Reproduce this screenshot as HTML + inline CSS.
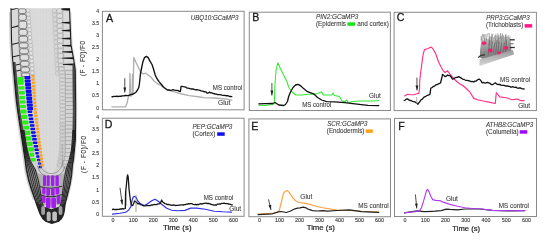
<!DOCTYPE html>
<html><head><meta charset="utf-8"><title>GCaMP3 root calcium responses</title>
<style>
html,body{margin:0;padding:0;background:#fff;width:550px;height:240px;overflow:hidden}
svg{display:block}
text{font-family:"Liberation Sans",Arial,sans-serif;fill:#333}
.pl{font-size:10.6px;fill:#1a1a1a;stroke:#1a1a1a;stroke-width:0.3px}
.yt{font-size:5.1px;text-anchor:end;fill:#333;stroke:#333;stroke-width:0.1px}
.xt{font-size:5.4px;text-anchor:middle;fill:#333;stroke:#333;stroke-width:0.1px}
.xl{font-size:7.9px;fill:#222;stroke:#222;stroke-width:0.2px}
.yl{font-size:6.3px;text-anchor:middle;fill:#333;stroke:#333;stroke-width:0.12px}
.it{font-size:6.5px;font-style:italic;fill:#383838;stroke:#383838;stroke-width:0.08px}
.nt{font-size:6.5px;fill:#383838;stroke:#383838;stroke-width:0.08px}
</style></head>
<body>
<svg width="550" height="240" viewBox="0 0 550 240">
<rect width="550" height="240" fill="#fff"/>
<defs><clipPath id="rootclip"><polygon points="11.00,8.30 11.04,10.72 11.08,13.14 11.11,15.56 11.15,17.98 11.19,20.40 11.23,22.81 11.27,25.23 11.31,27.65 11.34,30.07 11.38,32.49 11.42,34.91 11.46,37.33 11.50,39.75 11.62,42.17 11.74,44.59 11.87,47.01 12.00,49.42 12.13,51.84 12.26,54.26 12.43,56.68 12.63,59.10 12.82,61.52 13.02,63.94 13.21,66.36 13.40,68.78 13.61,71.20 13.82,73.62 14.03,76.03 14.25,78.45 14.46,80.87 14.67,83.29 14.89,85.71 15.10,88.13 15.33,90.55 15.55,92.97 15.77,95.39 16.00,97.81 16.23,100.23 16.54,102.64 16.86,105.06 17.17,107.48 17.49,109.90 17.85,112.32 18.21,114.74 18.57,117.16 18.94,119.58 19.30,122.00 19.66,124.42 20.03,126.84 20.39,129.26 20.75,131.67 21.11,134.09 21.48,136.51 21.84,138.93 22.20,141.35 22.57,143.77 22.93,146.19 23.29,148.61 23.65,151.03 24.02,153.45 24.38,155.87 24.74,158.28 25.09,160.70 25.41,163.12 25.72,165.54 26.03,167.96 26.38,170.38 26.92,172.80 27.45,175.22 27.98,177.64 28.52,180.06 29.24,182.48 29.97,184.89 30.69,187.31 31.42,189.73 32.25,192.15 33.10,194.57 33.95,196.99 34.79,199.41 35.62,201.83 36.44,204.25 37.30,206.67 38.17,209.09 39.10,211.50 40.07,213.92 41.31,216.34 42.95,218.76 45.77,221.18 51.80,223.60 51.80,223.60 58.73,221.18 61.43,218.76 62.83,216.34 63.72,213.92 64.20,211.50 64.59,209.09 64.83,206.67 65.19,204.25 65.79,201.83 66.40,199.41 67.00,196.99 67.61,194.57 68.21,192.15 68.82,189.73 69.42,187.31 70.02,184.89 70.43,182.48 70.84,180.06 71.25,177.64 71.66,175.22 71.88,172.80 72.07,170.38 72.26,167.96 72.46,165.54 72.88,163.12 73.36,160.70 73.66,158.28 73.89,155.87 74.12,153.45 74.35,151.03 74.58,148.61 74.81,146.19 75.04,143.77 75.27,141.35 75.41,138.93 75.43,136.51 75.46,134.09 75.48,131.67 75.51,129.26 75.53,126.84 75.56,124.42 75.58,122.00 75.60,119.58 75.63,117.16 75.65,114.74 75.68,112.32 75.70,109.90 75.67,107.48 75.65,105.06 75.63,102.64 75.60,100.23 75.58,97.81 75.55,95.39 75.53,92.97 75.51,90.55 75.48,88.13 75.46,85.71 75.43,83.29 75.41,80.87 75.38,78.45 75.36,76.03 75.34,73.62 75.31,71.20 75.12,68.78 74.75,66.36 74.39,63.94 74.03,61.52 73.63,59.10 73.18,56.68 72.73,54.26 72.28,51.84 71.83,49.42 71.37,47.01 70.98,44.59 70.89,42.17 70.79,39.75 70.69,37.33 70.60,34.91 70.50,32.49 70.40,30.07 70.31,27.65 70.21,25.23 70.11,22.81 70.02,20.40 69.91,17.98 69.81,15.56 69.71,13.14 69.60,10.72 69.50,8.30"/></clipPath><filter id="rblur" x="-5%" y="-5%" width="110%" height="110%"><feGaussianBlur stdDeviation="0.35"/></filter></defs>
<g filter="url(#rblur)">
<polyline points="9.76,12.00 9.83,16.82 9.91,21.64 9.99,26.46 10.06,31.28 10.14,36.10 10.25,40.92 10.51,45.74 10.76,50.56 11.03,55.38 11.42,60.21 11.80,65.03 12.19,69.85 12.61,74.67 13.04,79.49 13.46,84.31 13.90,89.13 14.34,93.95 14.79,98.77 15.37,103.59 15.99,108.41 16.68,113.23 17.41,118.05 18.13,122.87 18.85,127.69 19.58,132.51 20.30,137.33 21.02,142.15 21.75,146.97 22.47,151.79 23.19,156.62 23.89,161.44 24.51,166.26 25.24,171.08 26.30,175.90 27.42,180.72 28.86,185.54 30.33,190.36 32.01,195.18 33.70,200.00" fill="none" stroke="#d2d2d2" stroke-width="1.6"/>
<polyline points="70.66,12.00 70.86,16.82 71.07,21.64 71.26,26.46 71.45,31.28 71.64,36.10 71.84,40.92 72.14,45.74 73.04,50.56 73.94,55.38 74.83,60.21 75.55,65.03 76.28,69.85 76.35,74.67 76.39,79.49 76.44,84.31 76.49,89.13 76.54,93.95 76.59,98.77 76.64,103.59 76.68,108.41 76.67,113.23 76.62,118.05 76.57,122.87 76.52,127.69 76.47,132.51 76.43,137.33 76.20,142.15 75.74,146.97 75.28,151.79 74.82,156.62 74.21,161.44 73.40,166.26 73.01,171.08 72.55,175.90 71.73,180.72 70.87,185.54 69.66,190.36 68.46,195.18 67.25,200.00" fill="none" stroke="#dadada" stroke-width="1.2"/>
<g clip-path="url(#rootclip)">
<polygon points="11.00,8.30 11.04,10.72 11.08,13.14 11.11,15.56 11.15,17.98 11.19,20.40 11.23,22.81 11.27,25.23 11.31,27.65 11.34,30.07 11.38,32.49 11.42,34.91 11.46,37.33 11.50,39.75 11.62,42.17 11.74,44.59 11.87,47.01 12.00,49.42 12.13,51.84 12.26,54.26 12.43,56.68 12.63,59.10 12.82,61.52 13.02,63.94 13.21,66.36 13.40,68.78 13.61,71.20 13.82,73.62 14.03,76.03 14.25,78.45 14.46,80.87 14.67,83.29 14.89,85.71 15.10,88.13 15.33,90.55 15.55,92.97 15.77,95.39 16.00,97.81 16.23,100.23 16.54,102.64 16.86,105.06 17.17,107.48 17.49,109.90 17.85,112.32 18.21,114.74 18.57,117.16 18.94,119.58 19.30,122.00 19.66,124.42 20.03,126.84 20.39,129.26 20.75,131.67 21.11,134.09 21.48,136.51 21.84,138.93 22.20,141.35 22.57,143.77 22.93,146.19 23.29,148.61 23.65,151.03 24.02,153.45 24.38,155.87 24.74,158.28 25.09,160.70 25.41,163.12 25.72,165.54 26.03,167.96 26.38,170.38 26.92,172.80 27.45,175.22 27.98,177.64 28.52,180.06 29.24,182.48 29.97,184.89 30.69,187.31 31.42,189.73 32.25,192.15 33.10,194.57 33.95,196.99 34.79,199.41 35.62,201.83 36.44,204.25 37.30,206.67 38.17,209.09 39.10,211.50 40.07,213.92 41.31,216.34 42.95,218.76 45.77,221.18 51.80,223.60 51.80,223.60 58.73,221.18 61.43,218.76 62.83,216.34 63.72,213.92 64.20,211.50 64.59,209.09 64.83,206.67 65.19,204.25 65.79,201.83 66.40,199.41 67.00,196.99 67.61,194.57 68.21,192.15 68.82,189.73 69.42,187.31 70.02,184.89 70.43,182.48 70.84,180.06 71.25,177.64 71.66,175.22 71.88,172.80 72.07,170.38 72.26,167.96 72.46,165.54 72.88,163.12 73.36,160.70 73.66,158.28 73.89,155.87 74.12,153.45 74.35,151.03 74.58,148.61 74.81,146.19 75.04,143.77 75.27,141.35 75.41,138.93 75.43,136.51 75.46,134.09 75.48,131.67 75.51,129.26 75.53,126.84 75.56,124.42 75.58,122.00 75.60,119.58 75.63,117.16 75.65,114.74 75.68,112.32 75.70,109.90 75.67,107.48 75.65,105.06 75.63,102.64 75.60,100.23 75.58,97.81 75.55,95.39 75.53,92.97 75.51,90.55 75.48,88.13 75.46,85.71 75.43,83.29 75.41,80.87 75.38,78.45 75.36,76.03 75.34,73.62 75.31,71.20 75.12,68.78 74.75,66.36 74.39,63.94 74.03,61.52 73.63,59.10 73.18,56.68 72.73,54.26 72.28,51.84 71.83,49.42 71.37,47.01 70.98,44.59 70.89,42.17 70.79,39.75 70.69,37.33 70.60,34.91 70.50,32.49 70.40,30.07 70.31,27.65 70.21,25.23 70.11,22.81 70.02,20.40 69.91,17.98 69.81,15.56 69.71,13.14 69.60,10.72 69.50,8.30" fill="#d4d4d4"/>
<polygon points="29.40,8.30 29.71,11.72 30.03,15.14 30.34,18.57 30.65,21.99 30.96,25.41 31.28,28.83 31.59,32.26 31.90,35.68 32.22,39.10 32.53,42.52 32.84,45.95 33.16,49.37 33.47,52.79 33.78,56.21 34.09,59.64 34.41,63.06 34.72,66.48 35.03,69.90 35.35,73.33 35.60,76.75 35.80,80.17 35.99,83.59 36.19,87.02 36.38,90.44 36.58,93.86 36.77,97.28 36.97,100.71 37.16,104.13 37.36,107.55 37.60,110.97 37.94,114.40 38.28,117.82 38.62,121.24 38.97,124.66 39.31,128.09 39.65,131.51 39.99,134.93 40.34,138.35 40.77,141.78 41.28,145.20 41.79,148.62 42.31,152.04 42.82,155.47 43.33,158.89 44.08,162.31 44.93,165.73 45.79,169.16 47.72,172.58 50.00,176.00 52.00,176.00 53.71,172.58 55.21,169.16 56.07,165.73 56.92,162.31 57.61,158.89 57.95,155.47 58.30,152.04 58.64,148.62 58.98,145.20 59.32,141.78 59.50,138.35 59.50,134.93 59.50,131.51 59.50,128.09 59.50,124.66 59.50,121.24 59.50,117.82 59.50,114.40 59.50,110.97 59.43,107.55 59.33,104.13 59.23,100.71 59.14,97.28 59.04,93.86 58.94,90.44 58.84,87.02 58.75,83.59 58.65,80.17 58.55,76.75 58.11,73.33 57.31,69.90 56.51,66.48 55.71,63.06 54.98,59.64 54.78,56.21 54.58,52.79 54.38,49.37 54.18,45.95 53.99,42.52 53.79,39.10 53.59,35.68 53.39,32.26 53.19,28.83 52.99,25.41 52.79,21.99 52.60,18.57 52.40,15.14 52.20,11.72 52.00,8.30" fill="#e1e1e1"/>
<line x1="30.50" y1="8.5" x2="30.50" y2="172" stroke="#cecece" stroke-width="0.5"/>
<line x1="31.95" y1="8.5" x2="31.95" y2="172" stroke="#cecece" stroke-width="0.5"/>
<line x1="33.40" y1="8.5" x2="33.40" y2="172" stroke="#cecece" stroke-width="0.5"/>
<line x1="34.85" y1="8.5" x2="34.85" y2="172" stroke="#cecece" stroke-width="0.5"/>
<line x1="36.30" y1="8.5" x2="36.30" y2="172" stroke="#cecece" stroke-width="0.5"/>
<line x1="37.75" y1="8.5" x2="37.75" y2="172" stroke="#cecece" stroke-width="0.5"/>
<line x1="39.20" y1="8.5" x2="39.20" y2="172" stroke="#cecece" stroke-width="0.5"/>
<line x1="40.65" y1="8.5" x2="40.65" y2="172" stroke="#cecece" stroke-width="0.5"/>
<line x1="42.10" y1="8.5" x2="42.10" y2="172" stroke="#cecece" stroke-width="0.5"/>
<line x1="43.55" y1="8.5" x2="43.55" y2="172" stroke="#cecece" stroke-width="0.5"/>
<line x1="45.00" y1="8.5" x2="45.00" y2="172" stroke="#cecece" stroke-width="0.5"/>
<line x1="46.45" y1="8.5" x2="46.45" y2="172" stroke="#cecece" stroke-width="0.5"/>
<line x1="47.90" y1="8.5" x2="47.90" y2="172" stroke="#cecece" stroke-width="0.5"/>
<line x1="49.35" y1="8.5" x2="49.35" y2="172" stroke="#cecece" stroke-width="0.5"/>
<line x1="50.80" y1="8.5" x2="50.80" y2="172" stroke="#cecece" stroke-width="0.5"/>
<line x1="52.25" y1="8.5" x2="52.25" y2="172" stroke="#cecece" stroke-width="0.5"/>
<line x1="53.70" y1="8.5" x2="53.70" y2="172" stroke="#cecece" stroke-width="0.5"/>
<line x1="55.15" y1="8.5" x2="55.15" y2="172" stroke="#cecece" stroke-width="0.5"/>
<line x1="56.60" y1="8.5" x2="56.60" y2="172" stroke="#cecece" stroke-width="0.5"/>
<line x1="58.05" y1="8.5" x2="58.05" y2="172" stroke="#cecece" stroke-width="0.5"/>
<line x1="30.56" y1="10.0" x2="51.10" y2="10.0" stroke="#d6d6d6" stroke-width="0.4"/>
<line x1="30.76" y1="12.2" x2="51.23" y2="12.2" stroke="#d6d6d6" stroke-width="0.4"/>
<line x1="30.96" y1="14.4" x2="51.35" y2="14.4" stroke="#d6d6d6" stroke-width="0.4"/>
<line x1="31.16" y1="16.6" x2="51.48" y2="16.6" stroke="#d6d6d6" stroke-width="0.4"/>
<line x1="31.36" y1="18.8" x2="51.61" y2="18.8" stroke="#d6d6d6" stroke-width="0.4"/>
<line x1="31.56" y1="21.0" x2="51.74" y2="21.0" stroke="#d6d6d6" stroke-width="0.4"/>
<line x1="31.76" y1="23.2" x2="51.86" y2="23.2" stroke="#d6d6d6" stroke-width="0.4"/>
<line x1="31.96" y1="25.4" x2="51.99" y2="25.4" stroke="#d6d6d6" stroke-width="0.4"/>
<line x1="32.17" y1="27.6" x2="52.12" y2="27.6" stroke="#d6d6d6" stroke-width="0.4"/>
<line x1="32.37" y1="29.8" x2="52.25" y2="29.8" stroke="#d6d6d6" stroke-width="0.4"/>
<line x1="32.57" y1="32.0" x2="52.38" y2="32.0" stroke="#d6d6d6" stroke-width="0.4"/>
<line x1="32.77" y1="34.2" x2="52.50" y2="34.2" stroke="#d6d6d6" stroke-width="0.4"/>
<line x1="32.97" y1="36.4" x2="52.63" y2="36.4" stroke="#d6d6d6" stroke-width="0.4"/>
<line x1="33.17" y1="38.6" x2="52.76" y2="38.6" stroke="#d6d6d6" stroke-width="0.4"/>
<line x1="33.37" y1="40.8" x2="52.89" y2="40.8" stroke="#d6d6d6" stroke-width="0.4"/>
<line x1="33.57" y1="43.0" x2="53.01" y2="43.0" stroke="#d6d6d6" stroke-width="0.4"/>
<line x1="33.77" y1="45.2" x2="53.14" y2="45.2" stroke="#d6d6d6" stroke-width="0.4"/>
<line x1="33.98" y1="47.4" x2="53.27" y2="47.4" stroke="#d6d6d6" stroke-width="0.4"/>
<line x1="34.18" y1="49.6" x2="53.40" y2="49.6" stroke="#d6d6d6" stroke-width="0.4"/>
<line x1="34.38" y1="51.8" x2="53.52" y2="51.8" stroke="#d6d6d6" stroke-width="0.4"/>
<line x1="34.58" y1="54.0" x2="53.65" y2="54.0" stroke="#d6d6d6" stroke-width="0.4"/>
<line x1="34.78" y1="56.2" x2="53.78" y2="56.2" stroke="#d6d6d6" stroke-width="0.4"/>
<line x1="34.98" y1="58.4" x2="53.91" y2="58.4" stroke="#d6d6d6" stroke-width="0.4"/>
<line x1="35.18" y1="60.6" x2="54.14" y2="60.6" stroke="#d6d6d6" stroke-width="0.4"/>
<line x1="35.38" y1="62.8" x2="54.65" y2="62.8" stroke="#d6d6d6" stroke-width="0.4"/>
<line x1="35.59" y1="65.0" x2="55.17" y2="65.0" stroke="#d6d6d6" stroke-width="0.4"/>
<line x1="35.79" y1="67.2" x2="55.68" y2="67.2" stroke="#d6d6d6" stroke-width="0.4"/>
<line x1="35.99" y1="69.4" x2="56.19" y2="69.4" stroke="#d6d6d6" stroke-width="0.4"/>
<line x1="36.19" y1="71.6" x2="56.71" y2="71.6" stroke="#d6d6d6" stroke-width="0.4"/>
<line x1="36.39" y1="73.8" x2="57.22" y2="73.8" stroke="#d6d6d6" stroke-width="0.4"/>
<line x1="36.56" y1="76.0" x2="57.53" y2="76.0" stroke="#d6d6d6" stroke-width="0.4"/>
<line x1="36.68" y1="78.2" x2="57.59" y2="78.2" stroke="#d6d6d6" stroke-width="0.4"/>
<line x1="36.81" y1="80.4" x2="57.65" y2="80.4" stroke="#d6d6d6" stroke-width="0.4"/>
<line x1="36.93" y1="82.6" x2="57.72" y2="82.6" stroke="#d6d6d6" stroke-width="0.4"/>
<line x1="37.06" y1="84.8" x2="57.78" y2="84.8" stroke="#d6d6d6" stroke-width="0.4"/>
<line x1="37.19" y1="87.0" x2="57.84" y2="87.0" stroke="#d6d6d6" stroke-width="0.4"/>
<line x1="37.31" y1="89.2" x2="57.91" y2="89.2" stroke="#d6d6d6" stroke-width="0.4"/>
<line x1="37.44" y1="91.4" x2="57.97" y2="91.4" stroke="#d6d6d6" stroke-width="0.4"/>
<line x1="37.56" y1="93.6" x2="58.03" y2="93.6" stroke="#d6d6d6" stroke-width="0.4"/>
<line x1="37.69" y1="95.8" x2="58.09" y2="95.8" stroke="#d6d6d6" stroke-width="0.4"/>
<line x1="37.81" y1="98.0" x2="58.16" y2="98.0" stroke="#d6d6d6" stroke-width="0.4"/>
<line x1="37.94" y1="100.2" x2="58.22" y2="100.2" stroke="#d6d6d6" stroke-width="0.4"/>
<line x1="38.07" y1="102.4" x2="58.28" y2="102.4" stroke="#d6d6d6" stroke-width="0.4"/>
<line x1="38.19" y1="104.6" x2="58.35" y2="104.6" stroke="#d6d6d6" stroke-width="0.4"/>
<line x1="38.32" y1="106.8" x2="58.41" y2="106.8" stroke="#d6d6d6" stroke-width="0.4"/>
<line x1="38.44" y1="109.0" x2="58.47" y2="109.0" stroke="#d6d6d6" stroke-width="0.4"/>
<line x1="38.62" y1="111.2" x2="58.50" y2="111.2" stroke="#d6d6d6" stroke-width="0.4"/>
<line x1="38.84" y1="113.4" x2="58.50" y2="113.4" stroke="#d6d6d6" stroke-width="0.4"/>
<line x1="39.06" y1="115.6" x2="58.50" y2="115.6" stroke="#d6d6d6" stroke-width="0.4"/>
<line x1="39.28" y1="117.8" x2="58.50" y2="117.8" stroke="#d6d6d6" stroke-width="0.4"/>
<line x1="39.50" y1="120.0" x2="58.50" y2="120.0" stroke="#d6d6d6" stroke-width="0.4"/>
<line x1="39.72" y1="122.2" x2="58.50" y2="122.2" stroke="#d6d6d6" stroke-width="0.4"/>
<line x1="39.94" y1="124.4" x2="58.50" y2="124.4" stroke="#d6d6d6" stroke-width="0.4"/>
<line x1="40.16" y1="126.6" x2="58.50" y2="126.6" stroke="#d6d6d6" stroke-width="0.4"/>
<line x1="40.38" y1="128.8" x2="58.50" y2="128.8" stroke="#d6d6d6" stroke-width="0.4"/>
<line x1="40.60" y1="131.0" x2="58.50" y2="131.0" stroke="#d6d6d6" stroke-width="0.4"/>
<line x1="40.82" y1="133.2" x2="58.50" y2="133.2" stroke="#d6d6d6" stroke-width="0.4"/>
<line x1="41.04" y1="135.4" x2="58.50" y2="135.4" stroke="#d6d6d6" stroke-width="0.4"/>
<line x1="41.26" y1="137.6" x2="58.50" y2="137.6" stroke="#d6d6d6" stroke-width="0.4"/>
<line x1="41.48" y1="139.8" x2="58.50" y2="139.8" stroke="#d6d6d6" stroke-width="0.4"/>
<line x1="41.80" y1="142.0" x2="58.30" y2="142.0" stroke="#d6d6d6" stroke-width="0.4"/>
<line x1="42.13" y1="144.2" x2="58.08" y2="144.2" stroke="#d6d6d6" stroke-width="0.4"/>
<line x1="42.46" y1="146.4" x2="57.86" y2="146.4" stroke="#d6d6d6" stroke-width="0.4"/>
<line x1="42.79" y1="148.6" x2="57.64" y2="148.6" stroke="#d6d6d6" stroke-width="0.4"/>
<line x1="43.12" y1="150.8" x2="57.42" y2="150.8" stroke="#d6d6d6" stroke-width="0.4"/>
<line x1="43.45" y1="153.0" x2="57.20" y2="153.0" stroke="#d6d6d6" stroke-width="0.4"/>
<line x1="43.78" y1="155.2" x2="56.98" y2="155.2" stroke="#d6d6d6" stroke-width="0.4"/>
<line x1="44.11" y1="157.4" x2="56.76" y2="157.4" stroke="#d6d6d6" stroke-width="0.4"/>
<line x1="44.44" y1="159.6" x2="56.54" y2="159.6" stroke="#d6d6d6" stroke-width="0.4"/>
<line x1="44.95" y1="161.8" x2="56.05" y2="161.8" stroke="#d6d6d6" stroke-width="0.4"/>
<line x1="45.50" y1="164.0" x2="55.50" y2="164.0" stroke="#d6d6d6" stroke-width="0.4"/>
<line x1="46.05" y1="166.2" x2="54.95" y2="166.2" stroke="#d6d6d6" stroke-width="0.4"/>
<line x1="46.60" y1="168.4" x2="54.40" y2="168.4" stroke="#d6d6d6" stroke-width="0.4"/>
<rect x="26.42" y="8.60" width="3.4" height="3.5" rx="1.1" fill="#e6e6e6" stroke="#a6a6a6" stroke-width="0.5"/>
<rect x="26.69" y="12.50" width="3.4" height="3.5" rx="1.1" fill="#e6e6e6" stroke="#a6a6a6" stroke-width="0.5"/>
<rect x="26.97" y="16.40" width="3.4" height="3.5" rx="1.1" fill="#e6e6e6" stroke="#a6a6a6" stroke-width="0.5"/>
<rect x="27.24" y="20.30" width="3.4" height="3.5" rx="1.1" fill="#e6e6e6" stroke="#a6a6a6" stroke-width="0.5"/>
<rect x="27.51" y="24.20" width="3.4" height="3.5" rx="1.1" fill="#e6e6e6" stroke="#a6a6a6" stroke-width="0.5"/>
<rect x="27.79" y="28.10" width="3.4" height="3.5" rx="1.1" fill="#e6e6e6" stroke="#a6a6a6" stroke-width="0.5"/>
<rect x="28.06" y="32.00" width="3.4" height="3.5" rx="1.1" fill="#e6e6e6" stroke="#a6a6a6" stroke-width="0.5"/>
<rect x="28.33" y="35.90" width="3.4" height="3.5" rx="1.1" fill="#e6e6e6" stroke="#a6a6a6" stroke-width="0.5"/>
<rect x="28.61" y="39.80" width="3.4" height="3.5" rx="1.1" fill="#e6e6e6" stroke="#a6a6a6" stroke-width="0.5"/>
<rect x="28.88" y="43.70" width="3.4" height="3.5" rx="1.1" fill="#e6e6e6" stroke="#a6a6a6" stroke-width="0.5"/>
<rect x="29.15" y="47.60" width="3.4" height="3.5" rx="1.1" fill="#e6e6e6" stroke="#a6a6a6" stroke-width="0.5"/>
<rect x="29.42" y="51.50" width="3.4" height="3.5" rx="1.1" fill="#e6e6e6" stroke="#a6a6a6" stroke-width="0.5"/>
<rect x="29.70" y="55.40" width="3.4" height="3.5" rx="1.1" fill="#e6e6e6" stroke="#a6a6a6" stroke-width="0.5"/>
<rect x="29.97" y="59.30" width="3.4" height="3.5" rx="1.1" fill="#e6e6e6" stroke="#a6a6a6" stroke-width="0.5"/>
<rect x="30.24" y="63.20" width="3.4" height="3.5" rx="1.1" fill="#e6e6e6" stroke="#a6a6a6" stroke-width="0.5"/>
<rect x="30.52" y="67.10" width="3.4" height="3.5" rx="1.1" fill="#e6e6e6" stroke="#a6a6a6" stroke-width="0.5"/>
<rect x="30.79" y="71.00" width="3.4" height="3.5" rx="1.1" fill="#e6e6e6" stroke="#a6a6a6" stroke-width="0.5"/>
<rect x="31.06" y="74.90" width="3.4" height="3.5" rx="1.1" fill="#e6e6e6" stroke="#a6a6a6" stroke-width="0.5"/>
<polygon points="11.00,8.30 11.05,11.16 11.09,14.03 11.14,16.89 11.18,19.75 11.23,22.61 11.27,25.48 11.32,28.34 11.36,31.20 11.41,34.06 11.45,36.93 11.50,39.79 11.64,42.65 11.79,45.51 11.95,48.38 12.10,51.24 12.25,54.10 12.46,56.96 12.69,59.83 12.92,62.69 13.14,65.55 13.37,68.41 13.61,71.28 13.87,74.14 14.12,77.00 21.42,77.00 21.17,74.14 20.91,71.28 20.67,68.41 20.44,65.55 20.21,62.69 19.99,59.83 19.76,56.96 19.55,54.10 19.40,51.24 19.25,48.38 19.09,45.51 18.94,42.65 18.80,39.79 18.75,36.93 18.71,34.06 18.66,31.20 18.62,28.34 18.57,25.48 18.53,22.61 18.48,19.75 18.44,16.89 18.39,14.03 18.35,11.16 18.30,8.30" fill="#d9d9d9"/>
<polyline points="18.30,8.30 18.35,11.16 18.39,14.03 18.44,16.89 18.48,19.75 18.53,22.61 18.57,25.48 18.62,28.34 18.66,31.20 18.71,34.06 18.75,36.93 18.80,39.79 18.94,42.65 19.09,45.51 19.25,48.38 19.40,51.24 19.55,54.10 19.76,56.96 19.99,59.83 20.21,62.69 20.44,65.55 20.67,68.41 20.91,71.28 21.17,74.14 21.42,77.00" fill="none" stroke="#7c7c7c" stroke-width="0.8"/>
<line x1="11.00" y1="9.80" x2="18.30" y2="8.00" stroke="#222" stroke-width="1.1"/>
<line x1="11.29" y1="27.70" x2="18.59" y2="25.90" stroke="#222" stroke-width="1.1"/>
<line x1="11.68" y1="44.50" x2="18.98" y2="42.70" stroke="#222" stroke-width="1.1"/>
<line x1="12.36" y1="57.00" x2="19.66" y2="55.20" stroke="#222" stroke-width="1.1"/>
<line x1="13.07" y1="65.80" x2="20.37" y2="64.00" stroke="#222" stroke-width="1.1"/>
<line x1="13.55" y1="71.80" x2="20.85" y2="70.00" stroke="#222" stroke-width="1.1"/>
<rect x="18.64" y="8.70" width="7.36" height="4.90" rx="2" fill="#e0e0e0" stroke="#666" stroke-width="0.8"/>
<rect x="18.74" y="14.40" width="7.60" height="6.00" rx="2" fill="#e0e0e0" stroke="#666" stroke-width="0.8"/>
<rect x="18.86" y="21.20" width="7.89" height="7.40" rx="2" fill="#e0e0e0" stroke="#666" stroke-width="0.8"/>
<rect x="18.98" y="29.40" width="8.26" height="6.00" rx="2" fill="#e0e0e0" stroke="#666" stroke-width="0.8"/>
<rect x="19.09" y="36.20" width="8.56" height="5.90" rx="2" fill="#e0e0e0" stroke="#666" stroke-width="0.8"/>
<rect x="19.39" y="42.90" width="8.66" height="5.00" rx="2" fill="#e0e0e0" stroke="#666" stroke-width="0.8"/>
<rect x="19.70" y="48.70" width="8.70" height="5.10" rx="2" fill="#e0e0e0" stroke="#666" stroke-width="0.8"/>
<rect x="20.10" y="54.60" width="8.65" height="5.80" rx="2" fill="#e0e0e0" stroke="#666" stroke-width="0.8"/>
<rect x="20.60" y="61.20" width="8.55" height="5.10" rx="2" fill="#e0e0e0" stroke="#666" stroke-width="0.8"/>
<rect x="21.07" y="67.10" width="8.44" height="5.00" rx="2" fill="#e0e0e0" stroke="#666" stroke-width="0.8"/>
<rect x="21.52" y="72.90" width="8.33" height="3.70" rx="2" fill="#e0e0e0" stroke="#666" stroke-width="0.8"/>
<rect x="52.22" y="8.60" width="4.40" height="4.0" rx="1.3" fill="#d6d6d6" stroke="#b4b4b4" stroke-width="0.5"/>
<rect x="52.45" y="13.10" width="4.33" height="4.0" rx="1.3" fill="#d6d6d6" stroke="#b4b4b4" stroke-width="0.5"/>
<rect x="52.68" y="17.60" width="4.27" height="4.0" rx="1.3" fill="#d6d6d6" stroke="#b4b4b4" stroke-width="0.5"/>
<rect x="52.91" y="22.10" width="4.21" height="4.0" rx="1.3" fill="#d6d6d6" stroke="#b4b4b4" stroke-width="0.5"/>
<rect x="53.15" y="26.60" width="4.14" height="4.0" rx="1.3" fill="#d6d6d6" stroke="#b4b4b4" stroke-width="0.5"/>
<rect x="53.38" y="31.10" width="4.08" height="4.0" rx="1.3" fill="#d6d6d6" stroke="#b4b4b4" stroke-width="0.5"/>
<rect x="53.61" y="35.60" width="4.01" height="4.0" rx="1.3" fill="#d6d6d6" stroke="#b4b4b4" stroke-width="0.5"/>
<rect x="53.85" y="40.10" width="3.95" height="4.0" rx="1.3" fill="#d6d6d6" stroke="#b4b4b4" stroke-width="0.5"/>
<rect x="54.08" y="44.60" width="3.89" height="4.0" rx="1.3" fill="#d6d6d6" stroke="#b4b4b4" stroke-width="0.5"/>
<rect x="54.31" y="49.10" width="3.82" height="4.0" rx="1.3" fill="#d6d6d6" stroke="#b4b4b4" stroke-width="0.5"/>
<rect x="54.55" y="53.60" width="3.76" height="4.0" rx="1.3" fill="#d6d6d6" stroke="#b4b4b4" stroke-width="0.5"/>
<rect x="54.78" y="58.10" width="3.70" height="4.0" rx="1.3" fill="#d6d6d6" stroke="#b4b4b4" stroke-width="0.5"/>
<rect x="55.01" y="62.60" width="3.63" height="4.0" rx="1.3" fill="#d6d6d6" stroke="#b4b4b4" stroke-width="0.5"/>
<rect x="55.25" y="67.10" width="3.57" height="4.0" rx="1.3" fill="#d6d6d6" stroke="#b4b4b4" stroke-width="0.5"/>
<rect x="55.48" y="71.60" width="3.51" height="4.0" rx="1.3" fill="#d6d6d6" stroke="#b4b4b4" stroke-width="0.5"/>
<rect x="56.81" y="8.60" width="5.60" height="4.40" rx="1.4" fill="#dedede" stroke="#a4a4a4" stroke-width="0.6"/>
<rect x="56.94" y="13.60" width="5.56" height="4.40" rx="1.4" fill="#dedede" stroke="#a4a4a4" stroke-width="0.6"/>
<rect x="57.08" y="18.60" width="5.52" height="4.40" rx="1.4" fill="#dedede" stroke="#a4a4a4" stroke-width="0.6"/>
<rect x="57.21" y="23.60" width="5.48" height="4.40" rx="1.4" fill="#dedede" stroke="#a4a4a4" stroke-width="0.6"/>
<rect x="57.35" y="28.60" width="5.44" height="4.40" rx="1.4" fill="#dedede" stroke="#a4a4a4" stroke-width="0.6"/>
<rect x="57.49" y="33.60" width="5.40" height="4.40" rx="1.4" fill="#dedede" stroke="#a4a4a4" stroke-width="0.6"/>
<rect x="57.62" y="38.60" width="5.37" height="4.40" rx="1.4" fill="#dedede" stroke="#a4a4a4" stroke-width="0.6"/>
<rect x="57.76" y="43.60" width="5.33" height="4.40" rx="1.4" fill="#dedede" stroke="#a4a4a4" stroke-width="0.6"/>
<rect x="57.89" y="48.60" width="5.29" height="4.40" rx="1.4" fill="#dedede" stroke="#a4a4a4" stroke-width="0.6"/>
<rect x="58.03" y="53.60" width="5.25" height="4.40" rx="1.4" fill="#dedede" stroke="#a4a4a4" stroke-width="0.6"/>
<rect x="58.16" y="58.60" width="5.21" height="4.40" rx="1.4" fill="#dedede" stroke="#a4a4a4" stroke-width="0.6"/>
<rect x="58.51" y="63.60" width="5.34" height="3.10" rx="1.4" fill="#dedede" stroke="#a4a4a4" stroke-width="0.6"/>
<rect x="58.83" y="67.30" width="5.49" height="3.10" rx="1.4" fill="#dedede" stroke="#a4a4a4" stroke-width="0.6"/>
<rect x="59.15" y="71.00" width="5.64" height="3.10" rx="1.4" fill="#d8d8d8" stroke="#b0b0b0" stroke-width="0.6"/>
<rect x="59.47" y="74.70" width="5.79" height="3.10" rx="1.4" fill="#d8d8d8" stroke="#b0b0b0" stroke-width="0.6"/>
<rect x="59.50" y="78.40" width="5.80" height="3.10" rx="1.4" fill="#d8d8d8" stroke="#b0b0b0" stroke-width="0.6"/>
<rect x="59.50" y="82.10" width="5.80" height="3.10" rx="1.4" fill="#d8d8d8" stroke="#b0b0b0" stroke-width="0.6"/>
<rect x="59.50" y="85.80" width="5.80" height="3.10" rx="1.4" fill="#d8d8d8" stroke="#b0b0b0" stroke-width="0.6"/>
<rect x="59.50" y="89.50" width="5.80" height="3.10" rx="1.4" fill="#d8d8d8" stroke="#b0b0b0" stroke-width="0.6"/>
<rect x="59.50" y="93.20" width="5.80" height="3.10" rx="1.4" fill="#d8d8d8" stroke="#b0b0b0" stroke-width="0.6"/>
<rect x="59.50" y="96.90" width="5.80" height="3.10" rx="1.4" fill="#d8d8d8" stroke="#b0b0b0" stroke-width="0.6"/>
<rect x="59.50" y="100.60" width="5.80" height="3.10" rx="1.4" fill="#d8d8d8" stroke="#b0b0b0" stroke-width="0.6"/>
<rect x="59.50" y="104.30" width="5.80" height="3.10" rx="1.4" fill="#d8d8d8" stroke="#b0b0b0" stroke-width="0.6"/>
<rect x="59.50" y="108.00" width="5.80" height="3.10" rx="1.4" fill="#d8d8d8" stroke="#b0b0b0" stroke-width="0.6"/>
<rect x="59.50" y="111.70" width="5.80" height="3.10" rx="1.4" fill="#d8d8d8" stroke="#b0b0b0" stroke-width="0.6"/>
<rect x="59.50" y="115.40" width="5.80" height="3.10" rx="1.4" fill="#d8d8d8" stroke="#b0b0b0" stroke-width="0.6"/>
<rect x="59.50" y="119.10" width="5.80" height="3.10" rx="1.4" fill="#d8d8d8" stroke="#b0b0b0" stroke-width="0.6"/>
<rect x="59.50" y="122.80" width="5.80" height="3.10" rx="1.4" fill="#cecece" stroke="#b0b0b0" stroke-width="0.6"/>
<rect x="59.50" y="126.50" width="5.80" height="3.10" rx="1.4" fill="#cecece" stroke="#b0b0b0" stroke-width="0.6"/>
<rect x="59.50" y="130.20" width="5.80" height="3.10" rx="1.4" fill="#cecece" stroke="#b0b0b0" stroke-width="0.6"/>
<rect x="59.50" y="133.90" width="5.80" height="3.10" rx="1.4" fill="#cecece" stroke="#b0b0b0" stroke-width="0.6"/>
<rect x="59.50" y="137.60" width="5.80" height="3.10" rx="1.4" fill="#cecece" stroke="#b0b0b0" stroke-width="0.6"/>
<rect x="59.50" y="141.30" width="5.80" height="3.10" rx="1.4" fill="#cecece" stroke="#b0b0b0" stroke-width="0.6"/>
<rect x="59.50" y="145.00" width="5.80" height="3.10" rx="1.4" fill="#cecece" stroke="#b0b0b0" stroke-width="0.6"/>
<rect x="59.50" y="148.70" width="5.80" height="3.10" rx="1.4" fill="#cecece" stroke="#b0b0b0" stroke-width="0.6"/>
<rect x="59.10" y="152.40" width="5.83" height="3.10" rx="1.4" fill="#cecece" stroke="#b0b0b0" stroke-width="0.6"/>
<rect x="58.48" y="156.10" width="5.88" height="3.10" rx="1.4" fill="#cecece" stroke="#b0b0b0" stroke-width="0.6"/>
<rect x="57.87" y="159.80" width="5.93" height="3.10" rx="1.4" fill="#cecece" stroke="#b0b0b0" stroke-width="0.6"/>
<rect x="57.25" y="163.50" width="5.98" height="3.10" rx="1.4" fill="#cecece" stroke="#b0b0b0" stroke-width="0.6"/>
<rect x="62.90" y="8.60" width="6.23" height="0.70" rx="1.2" fill="#dadada" stroke="#a8a8a8" stroke-width="0.6"/>
<path d="M61.40,8.00 L69.53,7.40 L69.53,9.40 L61.40,8.70 Z" fill="#151515"/>
<rect x="62.92" y="9.90" width="6.51" height="12.40" rx="1.2" fill="#dadada" stroke="#a8a8a8" stroke-width="0.6"/>
<path d="M61.42,9.30 L69.83,8.70 L69.83,10.70 L61.42,10.00 Z" fill="#151515"/>
<rect x="63.12" y="22.90" width="6.74" height="7.30" rx="1.2" fill="#dadada" stroke="#a8a8a8" stroke-width="0.6"/>
<path d="M61.62,22.30 L70.26,21.70 L70.26,23.70 L61.62,23.00 Z" fill="#151515"/>
<rect x="63.24" y="30.80" width="6.94" height="7.40" rx="1.2" fill="#dadada" stroke="#a8a8a8" stroke-width="0.6"/>
<path d="M61.74,30.20 L70.58,29.60 L70.58,31.60 L61.74,30.90 Z" fill="#151515"/>
<rect x="63.37" y="38.80" width="7.11" height="6.50" rx="1.2" fill="#dadada" stroke="#a8a8a8" stroke-width="0.6"/>
<path d="M61.87,38.20 L70.88,37.60 L70.88,39.60 L61.87,38.90 Z" fill="#151515"/>
<rect x="63.48" y="45.90" width="7.82" height="5.70" rx="1.2" fill="#dadada" stroke="#a8a8a8" stroke-width="0.6"/>
<path d="M61.98,45.30 L71.70,44.70 L71.70,46.70 L61.98,46.00 Z" fill="#151515"/>
<rect x="63.57" y="52.20" width="8.89" height="5.60" rx="1.2" fill="#dadada" stroke="#a8a8a8" stroke-width="0.6"/>
<path d="M62.07,51.60 L72.87,51.00 L72.87,53.00 L62.07,52.30 Z" fill="#151515"/>
<rect x="63.67" y="58.40" width="9.92" height="5.70" rx="1.2" fill="#dadada" stroke="#a8a8a8" stroke-width="0.6"/>
<path d="M62.17,57.80 L73.99,57.20 L73.99,59.20 L62.17,58.50 Z" fill="#151515"/>
<rect x="64.26" y="64.70" width="10.27" height="5.60" rx="1.2" fill="#dadada" stroke="#a8a8a8" stroke-width="0.6"/>
<path d="M62.76,64.10 L74.92,63.50 L74.92,65.50 L62.76,64.80 Z" fill="#151515"/>
<rect x="65.04" y="70.60" width="7.78" height="3.90" fill="#d4d4d4" stroke="#a2a2a2" stroke-width="0.6"/>
<rect x="65.54" y="74.50" width="7.33" height="3.90" fill="#d4d4d4" stroke="#a2a2a2" stroke-width="0.6"/>
<rect x="65.60" y="78.40" width="7.30" height="3.90" fill="#d4d4d4" stroke="#a2a2a2" stroke-width="0.6"/>
<rect x="65.60" y="82.30" width="7.34" height="3.90" fill="#d4d4d4" stroke="#a2a2a2" stroke-width="0.6"/>
<rect x="65.60" y="86.20" width="7.38" height="3.90" fill="#d4d4d4" stroke="#a2a2a2" stroke-width="0.6"/>
<rect x="65.60" y="90.10" width="7.42" height="3.90" fill="#d4d4d4" stroke="#a2a2a2" stroke-width="0.6"/>
<rect x="65.60" y="94.00" width="7.46" height="3.90" fill="#d4d4d4" stroke="#a2a2a2" stroke-width="0.6"/>
<rect x="65.60" y="97.90" width="7.50" height="3.90" fill="#d4d4d4" stroke="#a2a2a2" stroke-width="0.6"/>
<rect x="65.60" y="101.80" width="7.54" height="3.90" fill="#d4d4d4" stroke="#a2a2a2" stroke-width="0.6"/>
<rect x="65.60" y="105.70" width="7.58" height="3.90" fill="#d4d4d4" stroke="#a2a2a2" stroke-width="0.6"/>
<rect x="65.60" y="109.60" width="7.58" height="3.90" fill="#d4d4d4" stroke="#a2a2a2" stroke-width="0.6"/>
<rect x="65.60" y="113.50" width="7.55" height="3.90" fill="#d4d4d4" stroke="#a2a2a2" stroke-width="0.6"/>
<rect x="65.60" y="117.40" width="7.51" height="3.90" fill="#d4d4d4" stroke="#a2a2a2" stroke-width="0.6"/>
<rect x="65.60" y="121.30" width="7.47" height="3.90" fill="#d4d4d4" stroke="#a2a2a2" stroke-width="0.6"/>
<rect x="65.60" y="125.20" width="7.43" height="3.90" fill="#d4d4d4" stroke="#a2a2a2" stroke-width="0.6"/>
<rect x="65.60" y="129.10" width="7.39" height="3.90" fill="#d4d4d4" stroke="#a2a2a2" stroke-width="0.6"/>
<rect x="65.60" y="133.00" width="7.35" height="3.90" fill="#d4d4d4" stroke="#a2a2a2" stroke-width="0.6"/>
<rect x="65.60" y="136.90" width="7.31" height="3.90" fill="#d4d4d4" stroke="#a2a2a2" stroke-width="0.6"/>
<rect x="65.60" y="140.80" width="7.04" height="3.90" fill="#d4d4d4" stroke="#a2a2a2" stroke-width="0.6"/>
<rect x="65.60" y="144.70" width="6.67" height="3.90" fill="#d4d4d4" stroke="#a2a2a2" stroke-width="0.6"/>
<rect x="65.60" y="148.60" width="6.30" height="3.90" fill="#d4d4d4" stroke="#a2a2a2" stroke-width="0.6"/>
<rect x="65.17" y="152.50" width="6.36" height="3.90" fill="#d4d4d4" stroke="#a2a2a2" stroke-width="0.6"/>
<rect x="64.49" y="156.40" width="6.67" height="3.90" fill="#d4d4d4" stroke="#a2a2a2" stroke-width="0.6"/>
<rect x="63.81" y="160.30" width="6.74" height="3.90" fill="#d4d4d4" stroke="#a2a2a2" stroke-width="0.6"/>
<rect x="63.14" y="164.20" width="6.77" height="3.90" fill="#d4d4d4" stroke="#a2a2a2" stroke-width="0.6"/>
<polygon points="72.90,64.00 74.40,64.00 75.24,69.58 75.35,75.16 75.41,80.74 75.46,86.32 75.52,91.89 75.57,97.47 75.63,103.05 75.69,108.63 75.66,114.21 75.60,119.79 75.55,125.37 75.49,130.95 75.43,136.53 75.20,142.11 74.67,147.68 74.14,153.26 73.61,158.84 72.62,164.42 72.10,170.00 69.00,170.00 72.80,140.00 73.30,110.00" fill="#4e4e4e"/>
<polyline points="72.90,64.00 73.30,110.00 72.80,140.00 71.30,160.00 68.80,176.00" fill="none" stroke="#333" stroke-width="0.7"/>
<polygon points="12.86,62.00 13.08,64.72 13.29,67.44 13.51,70.15 13.75,72.87 13.99,75.59 14.23,78.31 14.47,81.03 14.71,83.74 14.95,86.46 15.20,89.18 15.45,91.90 15.70,94.62 15.95,97.33 16.21,100.05 16.56,102.77 16.91,105.49 17.27,108.21 17.64,110.92 18.05,113.64 18.45,116.36 18.86,119.08 19.27,121.79 19.68,124.51 20.08,127.23 20.49,129.95 20.90,132.67 21.31,135.38 21.72,138.10 22.12,140.82 22.53,143.54 22.94,146.26 23.35,148.97 23.75,151.69 24.16,154.41 24.57,157.13 24.98,159.85 25.33,162.56 25.69,165.28 26.04,168.00 33.00,168.00 32.32,165.28 31.64,162.56 30.92,159.85 30.19,157.13 29.46,154.41 28.74,151.69 28.01,148.97 27.28,146.26 26.55,143.54 25.82,140.82 25.26,138.10 24.77,135.38 24.28,132.67 23.79,129.95 23.30,127.23 22.81,124.51 22.32,121.79 21.83,119.08 21.34,116.36 20.86,113.64 20.37,110.92 20.04,108.21 19.80,105.49 19.56,102.77 19.33,100.05 19.09,97.33 18.85,94.62 18.61,91.90 18.37,89.18 18.13,86.46 17.89,83.74 17.65,81.03 17.41,78.31 17.13,75.59 16.80,72.87 16.48,70.15 16.15,67.44 15.83,64.72 15.50,62.00" fill="#6e6e6e"/>
<polyline points="13.46,62.00 13.66,64.51 13.86,67.03 14.06,69.54 14.28,72.05 14.50,74.56 14.72,77.08 14.95,79.59 15.17,82.10 15.39,84.62 15.61,87.13 15.84,89.64 16.08,92.15 16.31,94.67 16.54,97.18 16.77,99.69 17.09,102.21 17.41,104.72 17.74,107.23 18.07,109.74 18.44,112.26 18.82,114.77 19.19,117.28 19.57,119.79 19.95,122.31 20.32,124.82 20.70,127.33 21.08,129.85 21.45,132.36 21.83,134.87 22.21,137.38 22.58,139.90 22.96,142.41 23.34,144.92 23.72,147.44 24.09,149.95 24.47,152.46 24.85,154.97 25.22,157.49 25.60,160.00" fill="none" stroke="#1f1f1f" stroke-width="1.1"/>
<polyline points="14.76,62.00 14.96,64.51 15.16,67.03 15.36,69.54 15.58,72.05 15.80,74.56 16.02,77.08 16.25,79.59 16.47,82.10 16.69,84.62 16.91,87.13 17.14,89.64 17.38,92.15 17.61,94.67 17.84,97.18 18.07,99.69 18.39,102.21 18.71,104.72 19.04,107.23 19.37,109.74 19.74,112.26 20.12,114.77 20.49,117.28 20.87,119.79 21.25,122.31 21.62,124.82 22.00,127.33 22.38,129.85 22.75,132.36 23.13,134.87 23.51,137.38 23.88,139.90 24.26,142.41 24.64,144.92 25.02,147.44 25.39,149.95 25.77,152.46 26.15,154.97 26.52,157.49 26.90,160.00" fill="none" stroke="#333" stroke-width="0.8"/>
<rect x="17.40" y="77.00" width="6.3" height="7.80" rx="1.3" fill="#2af012"/>
<rect x="18.22" y="86.30" width="6.3" height="3.20" rx="1.3" fill="#2af012"/>
<rect x="18.63" y="91.00" width="6.3" height="3.50" rx="1.3" fill="#2af012"/>
<rect x="19.07" y="96.00" width="6.3" height="3.30" rx="1.3" fill="#2af012"/>
<rect x="19.47" y="100.60" width="6.3" height="2.90" rx="1.3" fill="#2af012"/>
<rect x="19.86" y="105.00" width="6.3" height="3.10" rx="1.3" fill="#2af012"/>
<rect x="20.26" y="109.60" width="6.3" height="3.90" rx="1.3" fill="#2af012"/>
<rect x="21.18" y="114.80" width="6.3" height="4.30" rx="1.3" fill="#2af012"/>
<rect x="22.21" y="120.40" width="6.3" height="4.10" rx="1.3" fill="#2af012"/>
<rect x="23.20" y="125.80" width="6.3" height="3.70" rx="1.3" fill="#2af012"/>
<rect x="24.11" y="130.80" width="6.3" height="4.20" rx="1.3" fill="#2af012"/>
<rect x="25.12" y="136.30" width="6.3" height="4.20" rx="1.3" fill="#2af012"/>
<rect x="26.28" y="141.80" width="6.3" height="4.20" rx="1.3" fill="#2af012"/>
<rect x="27.76" y="147.30" width="6.3" height="4.20" rx="1.3" fill="#2af012"/>
<rect x="29.23" y="152.80" width="5" height="4.00" rx="1.3" fill="#2af012"/>
<rect x="30.63" y="158.00" width="5" height="3.50" rx="1.3" fill="#2af012"/>
<rect x="24.50" y="76.00" width="5.8" height="3.2" rx="0.7" fill="#0c0cf0"/>
<rect x="24.80" y="79.45" width="5.8" height="3.2" rx="0.7" fill="#0c0cf0"/>
<rect x="25.11" y="82.90" width="5.8" height="3.2" rx="0.7" fill="#0c0cf0"/>
<rect x="25.41" y="86.35" width="5.8" height="3.2" rx="0.7" fill="#0c0cf0"/>
<rect x="25.72" y="89.80" width="5.8" height="3.2" rx="0.7" fill="#0c0cf0"/>
<rect x="26.02" y="93.25" width="5.8" height="3.2" rx="0.7" fill="#0c0cf0"/>
<rect x="26.33" y="96.70" width="5.8" height="3.2" rx="0.7" fill="#0c0cf0"/>
<rect x="26.63" y="100.15" width="5.8" height="3.2" rx="0.7" fill="#0c0cf0"/>
<rect x="26.94" y="103.60" width="5.8" height="3.2" rx="0.7" fill="#0c0cf0"/>
<rect x="27.24" y="107.05" width="5.8" height="3.2" rx="0.7" fill="#0c0cf0"/>
<rect x="27.58" y="110.50" width="4.6" height="2.5" rx="0.7" fill="#0c0cf0"/>
<rect x="28.16" y="113.95" width="4.6" height="2.5" rx="0.7" fill="#0c0cf0"/>
<rect x="28.73" y="117.40" width="4.6" height="2.5" rx="0.7" fill="#0c0cf0"/>
<rect x="29.31" y="120.85" width="4.6" height="2.5" rx="0.7" fill="#0c0cf0"/>
<rect x="29.88" y="124.30" width="4.6" height="2.5" rx="0.7" fill="#0c0cf0"/>
<rect x="30.46" y="127.75" width="4.6" height="2.5" rx="0.7" fill="#0c0cf0"/>
<rect x="31.03" y="131.20" width="4.6" height="2.5" rx="0.7" fill="#0c0cf0"/>
<rect x="31.61" y="134.65" width="4.6" height="2.5" rx="0.7" fill="#0c0cf0"/>
<rect x="32.18" y="138.10" width="4.6" height="2.5" rx="0.7" fill="#0c0cf0"/>
<rect x="32.87" y="141.55" width="4.6" height="2.5" rx="0.7" fill="#0c0cf0"/>
<rect x="33.70" y="145.00" width="4.6" height="2.5" rx="0.7" fill="#0c0cf0"/>
<rect x="34.53" y="148.45" width="4.6" height="2.5" rx="0.7" fill="#0c0cf0"/>
<rect x="35.36" y="151.90" width="3.4" height="2.5" rx="0.7" fill="#0c0cf0"/>
<rect x="36.20" y="155.35" width="3.4" height="2.5" rx="0.7" fill="#0c0cf0"/>
<rect x="37.03" y="158.80" width="3.4" height="2.5" rx="0.7" fill="#0c0cf0"/>
<rect x="37.86" y="162.25" width="3.4" height="2.5" rx="0.7" fill="#0c0cf0"/>
<rect x="38.69" y="165.70" width="3.4" height="2.5" rx="0.7" fill="#0c0cf0"/>
<rect x="31.30" y="75.00" width="3.1" height="2.5" rx="0.7" fill="#ffa31a"/>
<rect x="31.53" y="78.30" width="3.1" height="2.5" rx="0.7" fill="#ffa31a"/>
<rect x="31.75" y="81.60" width="3.1" height="2.5" rx="0.7" fill="#ffa31a"/>
<rect x="31.98" y="84.90" width="3.1" height="2.5" rx="0.7" fill="#ffa31a"/>
<rect x="32.21" y="88.20" width="3.1" height="2.5" rx="0.7" fill="#ffa31a"/>
<rect x="32.43" y="91.50" width="3.1" height="2.5" rx="0.7" fill="#ffa31a"/>
<rect x="32.66" y="94.80" width="3.1" height="2.5" rx="0.7" fill="#ffa31a"/>
<rect x="32.88" y="98.10" width="3.1" height="2.5" rx="0.7" fill="#ffa31a"/>
<rect x="33.11" y="101.40" width="3.1" height="2.5" rx="0.7" fill="#ffa31a"/>
<rect x="33.34" y="104.70" width="3.1" height="2.5" rx="0.7" fill="#ffa31a"/>
<rect x="33.56" y="108.00" width="3.1" height="2.5" rx="0.7" fill="#ffa31a"/>
<rect x="33.86" y="111.30" width="3.1" height="2.5" rx="0.7" fill="#ffa31a"/>
<rect x="34.28" y="114.60" width="3.1" height="2.5" rx="0.7" fill="#ffa31a"/>
<rect x="34.70" y="117.90" width="3.1" height="2.5" rx="0.7" fill="#ffa31a"/>
<rect x="35.12" y="121.20" width="3.1" height="2.5" rx="0.7" fill="#ffa31a"/>
<rect x="35.54" y="124.50" width="3.1" height="2.5" rx="0.7" fill="#ffa31a"/>
<rect x="35.95" y="127.80" width="3.1" height="2.5" rx="0.7" fill="#ffa31a"/>
<rect x="36.37" y="131.10" width="3.1" height="2.5" rx="0.7" fill="#ffa31a"/>
<rect x="36.79" y="134.40" width="3.1" height="2.5" rx="0.7" fill="#ffa31a"/>
<rect x="37.21" y="137.70" width="3.1" height="2.5" rx="0.7" fill="#ffa31a"/>
<rect x="37.63" y="141.00" width="3.1" height="2.5" rx="0.7" fill="#ffa31a"/>
<rect x="38.07" y="144.30" width="3.1" height="2.5" rx="0.7" fill="#ffa31a"/>
<rect x="38.50" y="147.60" width="3.1" height="2.5" rx="0.7" fill="#ffa31a"/>
<rect x="38.94" y="150.90" width="3.1" height="2.5" rx="0.7" fill="#ffa31a"/>
<rect x="39.37" y="154.20" width="3.1" height="2.5" rx="0.7" fill="#ffa31a"/>
<rect x="39.81" y="157.50" width="3.1" height="2.5" rx="0.7" fill="#ffa31a"/>
<rect x="40.25" y="160.80" width="3.1" height="2.5" rx="0.7" fill="#ffa31a"/>
<rect x="40.68" y="164.10" width="3.1" height="2.5" rx="0.7" fill="#ffa31a"/>
<path d="M36,172 C40,176 62,176 68,172 L66,205 L38,205 Z" fill="#b2b2b2"/>
<path d="M38.5,160 C40,170 46,173.5 51,173.5 C57,173.5 62,170 63,160" fill="none" stroke="#8a8a8a" stroke-width="0.8"/>
<path d="M37.5,166 C40,175 46,177 51,177 C57,177 63,175 65,166" fill="none" stroke="#7a7a7a" stroke-width="0.8"/>
<line x1="62.3" y1="145" x2="62.3" y2="166" stroke="#9a9a9a" stroke-width="0.6"/>
<polygon points="20.50,130.00 20.82,132.10 21.13,134.21 21.45,136.31 21.76,138.41 22.08,140.51 22.39,142.62 22.71,144.72 23.02,146.82 23.34,148.92 23.65,151.03 23.97,153.13 24.28,155.23 24.60,157.33 24.92,159.44 25.20,161.54 25.47,163.64 25.75,165.74 26.02,167.85 26.29,169.95 26.75,172.05 27.21,174.15 27.68,176.26 28.14,178.36 28.64,180.46 29.27,182.56 29.90,184.67 30.53,186.77 31.16,188.87 31.84,190.97 32.58,193.08 33.31,195.18 34.05,197.28 34.78,199.38 35.51,201.49 36.22,203.59 36.95,205.69 37.71,207.79 38.46,209.90 39.30,212.00 47.00,212.00 45.95,209.90 44.90,207.79 43.92,205.69 43.40,203.59 42.87,201.49 42.42,199.38 42.15,197.28 41.87,195.18 41.60,193.08 41.33,190.97 41.01,188.87 40.65,186.77 40.29,184.67 39.94,182.56 39.58,180.46 39.01,178.36 38.38,176.26 37.75,174.15 37.12,172.05 36.47,169.95 35.21,167.85 33.95,165.74 32.68,163.64 31.42,161.54 30.33,159.44 29.70,157.33 29.07,155.23 28.44,153.13 27.81,151.03 27.34,148.92 27.02,146.82 26.71,144.72 26.39,142.62 26.08,140.51 25.76,138.41 25.45,136.31 25.13,134.21 24.82,132.10 24.50,130.00" fill="#9a9a9a"/>
<polygon points="75.50,130.00 75.48,132.10 75.46,134.21 75.44,136.31 75.42,138.41 75.35,140.51 75.15,142.62 74.95,144.72 74.75,146.82 74.55,148.92 74.35,151.03 74.15,153.13 73.95,155.23 73.75,157.33 73.55,159.44 73.19,161.54 72.77,163.64 72.44,165.74 72.27,167.85 72.10,169.95 71.94,172.05 71.77,174.15 71.49,176.26 71.13,178.36 70.77,180.46 70.41,182.56 70.06,184.67 69.56,186.77 69.03,188.87 68.51,190.97 67.98,193.08 67.46,195.18 66.93,197.28 66.40,199.38 65.88,201.49 65.35,203.59 64.93,205.69 64.72,207.79 64.51,209.90 64.10,212.00 57.00,212.00 57.88,209.90 58.75,207.79 59.58,205.69 60.10,203.59 60.63,201.49 61.06,199.38 61.27,197.28 61.48,195.18 61.69,193.08 61.90,190.97 62.11,188.87 62.32,186.77 62.53,184.67 62.74,182.56 62.95,180.46 63.33,178.36 63.75,176.26 64.17,174.15 64.59,172.05 65.02,169.95 65.75,167.85 66.49,165.74 67.23,163.64 67.96,161.54 68.64,159.44 69.17,157.33 69.69,155.23 70.22,153.13 70.74,151.03 71.09,148.92 71.25,146.82 71.42,144.72 71.59,142.62 71.76,140.51 71.91,138.41 72.06,136.31 72.21,134.21 72.35,132.10 72.50,130.00" fill="#9a9a9a"/>
<polyline points="20.70,130.00 21.02,132.10 21.33,134.21 21.65,136.31 21.96,138.41 22.28,140.51 22.59,142.62 22.91,144.72 23.22,146.82 23.54,148.92 23.86,151.03 24.19,153.13 24.52,155.23 24.86,157.33 25.19,159.44 25.51,161.54 25.83,163.64 26.16,165.74 26.48,167.85 26.80,169.95 27.27,172.05 27.74,174.15 28.21,176.26 28.68,178.36 29.19,180.46 29.80,182.56 30.42,184.67 31.04,186.77 31.65,188.87 32.32,190.97 33.03,193.08 33.74,195.18 34.45,197.28 35.17,199.38 35.87,201.49 36.58,203.59 37.30,205.69 38.07,207.79 38.84,209.90 39.68,212.00" fill="none" stroke="#161616" stroke-width="0.9"/>
<polyline points="21.37,130.00 21.68,132.10 22.00,134.21 22.31,136.31 22.63,138.41 22.94,140.51 23.26,142.62 23.57,144.72 23.89,146.82 24.21,148.92 24.55,151.03 24.94,153.13 25.32,155.23 25.70,157.33 26.09,159.44 26.55,161.54 27.04,163.64 27.52,165.74 28.01,167.85 28.50,169.95 29.00,172.05 29.50,174.15 29.99,176.26 30.49,178.36 31.01,180.46 31.58,182.56 32.15,184.67 32.72,186.77 33.29,188.87 33.90,190.97 34.53,193.08 35.17,195.18 35.80,197.28 36.44,199.38 37.10,201.49 37.78,203.59 38.46,205.69 39.26,207.79 40.08,209.90 40.97,212.00" fill="none" stroke="#161616" stroke-width="0.9"/>
<polyline points="22.03,130.00 22.35,132.10 22.66,134.21 22.98,136.31 23.29,138.41 23.61,140.51 23.93,142.62 24.24,144.72 24.56,146.82 24.87,148.92 25.25,151.03 25.68,153.13 26.12,155.23 26.55,157.33 26.99,159.44 27.59,161.54 28.24,163.64 28.89,165.74 29.54,167.85 30.19,169.95 30.72,172.05 31.25,174.15 31.78,176.26 32.31,178.36 32.83,180.46 33.36,182.56 33.88,184.67 34.41,186.77 34.94,188.87 35.48,190.97 36.04,193.08 36.59,195.18 37.15,197.28 37.71,199.38 38.33,201.49 38.97,203.59 39.62,205.69 40.46,207.79 41.33,209.90 42.25,212.00" fill="none" stroke="#161616" stroke-width="0.9"/>
<polyline points="22.70,130.00 23.02,132.10 23.33,134.21 23.65,136.31 23.96,138.41 24.28,140.51 24.59,142.62 24.91,144.72 25.22,146.82 25.54,148.92 25.94,151.03 26.43,153.13 26.92,155.23 27.41,157.33 27.89,159.44 28.62,161.54 29.44,163.64 30.26,165.74 31.07,167.85 31.89,169.95 32.45,172.05 33.01,174.15 33.56,176.26 34.12,178.36 34.66,180.46 35.14,182.56 35.62,184.67 36.10,186.77 36.58,188.87 37.06,190.97 37.54,193.08 38.02,195.18 38.50,197.28 38.98,199.38 39.56,201.49 40.17,203.59 40.78,205.69 41.66,207.79 42.58,209.90 43.53,212.00" fill="none" stroke="#161616" stroke-width="0.9"/>
<polyline points="23.37,130.00 23.68,132.10 24.00,134.21 24.31,136.31 24.63,138.41 24.94,140.51 25.26,142.62 25.57,144.72 25.89,146.82 26.21,148.92 26.63,151.03 27.17,153.13 27.71,155.23 28.26,157.33 28.80,159.44 29.66,161.54 30.64,163.64 31.62,165.74 32.60,167.85 33.59,169.95 34.18,172.05 34.76,174.15 35.35,176.26 35.93,178.36 36.48,180.46 36.91,182.56 37.35,184.67 37.78,186.77 38.22,188.87 38.64,190.97 39.04,193.08 39.45,195.18 39.85,197.28 40.26,199.38 40.78,201.49 41.36,203.59 41.95,205.69 42.86,207.79 43.83,209.90 44.82,212.00" fill="none" stroke="#161616" stroke-width="0.9"/>
<polyline points="24.03,130.00 24.35,132.10 24.66,134.21 24.98,136.31 25.29,138.41 25.61,140.51 25.93,142.62 26.24,144.72 26.56,146.82 26.87,148.92 27.32,151.03 27.92,153.13 28.51,155.23 29.11,157.33 29.70,159.44 30.70,161.54 31.84,163.64 32.99,165.74 34.14,167.85 35.28,169.95 35.91,172.05 36.52,174.15 37.13,176.26 37.74,178.36 38.30,180.46 38.69,182.56 39.08,184.67 39.47,186.77 39.86,188.87 40.22,190.97 40.55,193.08 40.87,195.18 41.20,197.28 41.53,199.38 42.01,201.49 42.56,203.59 43.11,205.69 44.06,207.79 45.08,209.90 46.10,212.00" fill="none" stroke="#161616" stroke-width="0.9"/>
<polyline points="75.32,130.00 75.29,132.10 75.26,134.21 75.23,136.31 75.21,138.41 75.14,140.51 74.94,142.62 74.74,144.72 74.54,146.82 74.34,148.92 74.14,151.03 73.92,153.13 73.70,155.23 73.48,157.33 73.26,159.44 72.88,161.54 72.44,163.64 72.08,165.74 71.88,167.85 71.68,169.95 71.50,172.05 71.31,174.15 71.02,176.26 70.66,178.36 70.30,180.46 69.95,182.56 69.61,184.67 69.12,186.77 68.62,188.87 68.11,190.97 67.60,193.08 67.10,195.18 66.59,197.28 66.08,199.38 65.56,201.49 65.04,203.59 64.61,205.69 64.36,207.79 64.11,209.90 63.67,212.00" fill="none" stroke="#161616" stroke-width="0.9"/>
<polyline points="74.72,130.00 74.67,132.10 74.61,134.21 74.56,136.31 74.50,138.41 74.42,140.51 74.23,142.62 74.03,144.72 73.84,146.82 73.65,148.92 73.41,151.03 73.13,153.13 72.85,155.23 72.56,157.33 72.28,159.44 71.83,161.54 71.33,163.64 70.89,165.74 70.58,167.85 70.26,169.95 70.03,172.05 69.79,174.15 69.47,176.26 69.10,178.36 68.74,180.46 68.42,182.56 68.10,184.67 67.68,186.77 67.23,188.87 66.79,190.97 66.35,193.08 65.90,195.18 65.46,197.28 65.01,199.38 64.51,201.49 63.99,203.59 63.54,205.69 63.17,207.79 62.79,209.90 62.25,212.00" fill="none" stroke="#161616" stroke-width="0.9"/>
<polyline points="74.12,130.00 74.04,132.10 73.96,134.21 73.88,136.31 73.80,138.41 73.70,140.51 73.51,142.62 73.33,144.72 73.14,146.82 72.96,148.92 72.69,151.03 72.34,153.13 71.99,155.23 71.64,157.33 71.29,159.44 70.79,161.54 70.22,163.64 69.70,165.74 69.27,167.85 68.84,169.95 68.56,172.05 68.27,174.15 67.93,176.26 67.54,178.36 67.18,180.46 66.89,182.56 66.60,184.67 66.23,186.77 65.85,188.87 65.47,190.97 65.09,193.08 64.71,195.18 64.33,197.28 63.95,199.38 63.46,201.49 62.94,203.59 62.47,205.69 61.98,207.79 61.46,209.90 60.83,212.00" fill="none" stroke="#161616" stroke-width="0.9"/>
<polyline points="73.52,130.00 73.42,132.10 73.31,134.21 73.21,136.31 73.10,138.41 72.98,140.51 72.80,142.62 72.62,144.72 72.44,146.82 72.26,148.92 71.97,151.03 71.56,153.13 71.14,155.23 70.73,157.33 70.31,159.44 69.74,161.54 69.11,163.64 68.51,165.74 67.97,167.85 67.43,169.95 67.09,172.05 66.75,174.15 66.38,176.26 65.98,178.36 65.61,180.46 65.35,182.56 65.09,184.67 64.78,186.77 64.47,188.87 64.15,190.97 63.83,193.08 63.51,195.18 63.20,197.28 62.88,199.38 62.41,201.49 61.89,203.59 61.40,205.69 60.78,207.79 60.13,209.90 59.41,212.00" fill="none" stroke="#161616" stroke-width="0.9"/>
<polyline points="72.92,130.00 72.79,132.10 72.66,134.21 72.53,136.31 72.40,138.41 72.26,140.51 72.09,142.62 71.92,144.72 71.74,146.82 71.57,148.92 71.25,151.03 70.77,153.13 70.29,155.23 69.81,157.33 69.33,159.44 68.69,161.54 68.00,163.64 67.32,165.74 66.67,167.85 66.01,169.95 65.62,172.05 65.23,174.15 64.83,176.26 64.42,178.36 64.05,180.46 63.82,182.56 63.59,184.67 63.34,186.77 63.08,188.87 62.83,190.97 62.57,193.08 62.32,195.18 62.06,197.28 61.81,199.38 61.36,201.49 60.84,203.59 60.33,205.69 59.59,207.79 58.80,209.90 57.99,212.00" fill="none" stroke="#161616" stroke-width="0.9"/>
<path d="M40,186.6 Q51,190 62,186.2" fill="none" stroke="#2a2a2a" stroke-width="1"/>
<path d="M40,194.8 Q51,199 62,194.5" fill="none" stroke="#2a2a2a" stroke-width="1"/>
<rect x="43.00" y="175.30" width="3.00" height="10.90" rx="1.5" fill="#a31ff0"/>
<rect x="46.70" y="175.30" width="3.00" height="10.90" rx="1.5" fill="#a31ff0"/>
<rect x="51.00" y="175.30" width="3.30" height="10.90" rx="1.5" fill="#a31ff0"/>
<rect x="55.50" y="175.30" width="3.30" height="10.90" rx="1.5" fill="#a31ff0"/>
<rect x="42.20" y="187.40" width="3.30" height="7.20" rx="1.5" fill="#a31ff0"/>
<rect x="46.30" y="188.00" width="3.70" height="7.80" rx="1.5" fill="#a31ff0"/>
<rect x="51.00" y="188.00" width="3.70" height="7.80" rx="1.5" fill="#a31ff0"/>
<rect x="55.50" y="187.40" width="3.80" height="7.20" rx="1.5" fill="#a31ff0"/>
<rect x="42.20" y="195.40" width="3.30" height="7.60" rx="1.5" fill="#a31ff0"/>
<rect x="46.00" y="197.60" width="4.50" height="10.60" rx="1.5" fill="#a31ff0"/>
<rect x="51.30" y="197.60" width="4.70" height="10.60" rx="1.5" fill="#a31ff0"/>
<rect x="56.70" y="195.40" width="3.80" height="8.60" rx="1.5" fill="#a31ff0"/>
<polygon points="35.68,202.00 42.00,206.00 51.50,209.30 61.00,206.00 65.75,202.00 65.75,202.00 65.15,204.40 64.82,206.80 64.58,209.20 64.18,211.60 63.70,214.00 62.80,216.40 61.40,218.80 58.70,221.20 51.80,223.60 51.80,223.60 45.80,221.20 42.98,218.80 41.34,216.40 40.10,214.00 39.14,211.60 38.21,209.20 37.35,206.80 36.50,204.40 35.68,202.00" fill="#262626"/>
<rect x="46.7" y="211.5" width="4.00" height="9.80" rx="2" fill="#bababa"/>
<rect x="52.3" y="211.5" width="4.60" height="9.80" rx="2" fill="#c2c2c2"/>
<rect x="41.2" y="206" width="3.80" height="9.00" rx="2" fill="#a0a0a0"/>
<rect x="58.6" y="206" width="3.80" height="9.00" rx="2" fill="#a0a0a0"/>
</g>
<polyline points="11.00,8.30 11.04,10.72 11.08,13.14 11.11,15.56 11.15,17.98 11.19,20.40 11.23,22.81 11.27,25.23 11.31,27.65 11.34,30.07 11.38,32.49 11.42,34.91 11.46,37.33 11.50,39.75 11.62,42.17 11.74,44.59 11.87,47.01 12.00,49.42 12.13,51.84 12.26,54.26 12.43,56.68 12.63,59.10 12.82,61.52 13.02,63.94 13.21,66.36 13.40,68.78 13.61,71.20 13.82,73.62 14.03,76.03 14.25,78.45 14.46,80.87 14.67,83.29 14.89,85.71 15.10,88.13 15.33,90.55 15.55,92.97 15.77,95.39 16.00,97.81 16.23,100.23 16.54,102.64 16.86,105.06 17.17,107.48 17.49,109.90 17.85,112.32 18.21,114.74 18.57,117.16 18.94,119.58 19.30,122.00 19.66,124.42 20.03,126.84 20.39,129.26 20.75,131.67 21.11,134.09 21.48,136.51 21.84,138.93 22.20,141.35 22.57,143.77 22.93,146.19 23.29,148.61 23.65,151.03 24.02,153.45 24.38,155.87 24.74,158.28 25.09,160.70 25.41,163.12 25.72,165.54 26.03,167.96 26.38,170.38 26.92,172.80 27.45,175.22 27.98,177.64 28.52,180.06 29.24,182.48 29.97,184.89 30.69,187.31 31.42,189.73 32.25,192.15 33.10,194.57 33.95,196.99 34.79,199.41 35.62,201.83 36.44,204.25 37.30,206.67 38.17,209.09 39.10,211.50 40.07,213.92 41.31,216.34 42.95,218.76 45.77,221.18 51.80,223.60" fill="none" stroke="#1e1e1e" stroke-width="1.1"/>
<polyline points="69.50,8.30 69.60,10.72 69.71,13.14 69.81,15.56 69.91,17.98 70.02,20.40 70.11,22.81 70.21,25.23 70.31,27.65 70.40,30.07 70.50,32.49 70.60,34.91 70.69,37.33 70.79,39.75 70.89,42.17 70.98,44.59 71.37,47.01 71.83,49.42 72.28,51.84 72.73,54.26 73.18,56.68 73.63,59.10 74.03,61.52 74.39,63.94 74.75,66.36 75.12,68.78 75.31,71.20 75.34,73.62 75.36,76.03 75.38,78.45 75.41,80.87 75.43,83.29 75.46,85.71 75.48,88.13 75.51,90.55 75.53,92.97 75.55,95.39 75.58,97.81 75.60,100.23 75.63,102.64 75.65,105.06 75.67,107.48 75.70,109.90 75.68,112.32 75.65,114.74 75.63,117.16 75.60,119.58 75.58,122.00 75.56,124.42 75.53,126.84 75.51,129.26 75.48,131.67 75.46,134.09 75.43,136.51 75.41,138.93 75.27,141.35 75.04,143.77 74.81,146.19 74.58,148.61 74.35,151.03 74.12,153.45 73.89,155.87 73.66,158.28 73.36,160.70 72.88,163.12 72.46,165.54 72.26,167.96 72.07,170.38 71.88,172.80 71.66,175.22 71.25,177.64 70.84,180.06 70.43,182.48 70.02,184.89 69.42,187.31 68.82,189.73 68.21,192.15 67.61,194.57 67.00,196.99 66.40,199.41 65.79,201.83 65.19,204.25 64.83,206.67 64.59,209.09 64.20,211.50 63.72,213.92 62.83,216.34 61.43,218.76 58.73,221.18 51.80,223.60" fill="none" stroke="#1e1e1e" stroke-width="1.1"/>
</g>
<defs><linearGradient id="ig" x1="0" y1="0" x2="0.25" y2="1"><stop offset="0" stop-color="#dedede"/><stop offset="0.3" stop-color="#b4b4b4"/><stop offset="0.7" stop-color="#8a8a8a"/><stop offset="1" stop-color="#808080"/></linearGradient><linearGradient id="ib" x1="0" y1="0" x2="0" y2="1"><stop offset="0" stop-color="#9a9a9a"/><stop offset="1" stop-color="#d6d6d6"/></linearGradient><filter id="bl" x="-10%" y="-10%" width="120%" height="120%"><feGaussianBlur stdDeviation="0.65"/></filter><filter id="bl2" x="-20%" y="-20%" width="140%" height="140%"><feGaussianBlur stdDeviation="0.4"/></filter></defs>
<g filter="url(#bl)">
<path d="M480,50 L481,43 L483,41 L485,38 L488,39 L490,36 L493,37.5 L496,35 L499,37 L502,35.5 L505,37 L508,36 L510,38 L511.5,51 C506,54 499,56 492,58 C486,59.5 481,59.5 480,57 Z" fill="url(#ig)"/>
<line x1="481.1" y1="36.0" x2="481.6" y2="46.7" stroke="#9a9a9a" stroke-width="0.8"/>
<line x1="482.8" y1="34.0" x2="481.1" y2="40.3" stroke="#8a8a8a" stroke-width="0.8"/>
<line x1="484.0" y1="34.0" x2="482.0" y2="43.2" stroke="#8a8a8a" stroke-width="0.8"/>
<line x1="485.2" y1="34.1" x2="483.7" y2="45.6" stroke="#7c7c7c" stroke-width="0.8"/>
<line x1="487.3" y1="33.6" x2="485.7" y2="43.3" stroke="#8a8a8a" stroke-width="0.8"/>
<line x1="489.0" y1="33.0" x2="489.6" y2="43.7" stroke="#8a8a8a" stroke-width="0.8"/>
<line x1="489.8" y1="36.8" x2="488.3" y2="46.1" stroke="#8a8a8a" stroke-width="0.8"/>
<line x1="492.0" y1="33.8" x2="490.9" y2="45.6" stroke="#7c7c7c" stroke-width="0.8"/>
<line x1="492.9" y1="33.7" x2="491.9" y2="40.5" stroke="#9a9a9a" stroke-width="0.8"/>
<line x1="494.8" y1="35.3" x2="493.0" y2="44.9" stroke="#b0b0b0" stroke-width="0.8"/>
<line x1="495.9" y1="34.2" x2="495.3" y2="44.4" stroke="#8a8a8a" stroke-width="0.8"/>
<line x1="497.7" y1="33.2" x2="498.6" y2="45.1" stroke="#9a9a9a" stroke-width="0.8"/>
<line x1="498.9" y1="34.6" x2="498.0" y2="43.9" stroke="#7c7c7c" stroke-width="0.8"/>
<line x1="500.6" y1="33.0" x2="500.4" y2="39.3" stroke="#8a8a8a" stroke-width="0.8"/>
<line x1="502.5" y1="33.5" x2="501.5" y2="41.0" stroke="#7c7c7c" stroke-width="0.8"/>
<line x1="503.4" y1="35.1" x2="503.1" y2="45.8" stroke="#9a9a9a" stroke-width="0.8"/>
<line x1="505.3" y1="34.5" x2="506.1" y2="42.2" stroke="#7c7c7c" stroke-width="0.8"/>
<line x1="506.1" y1="34.4" x2="505.1" y2="44.0" stroke="#8a8a8a" stroke-width="0.8"/>
<line x1="508.4" y1="35.2" x2="507.3" y2="43.1" stroke="#b0b0b0" stroke-width="0.8"/>
<line x1="509.8" y1="35.5" x2="510.8" y2="45.8" stroke="#b0b0b0" stroke-width="0.8"/>
<line x1="489.7" y1="40.1" x2="488.2" y2="55.0" stroke="#666" stroke-width="0.8"/>
<line x1="492.4" y1="41.2" x2="490.9" y2="52.7" stroke="#666" stroke-width="0.8"/>
<line x1="494.9" y1="42.5" x2="493.4" y2="53.4" stroke="#666" stroke-width="0.8"/>
<line x1="497.1" y1="40.2" x2="495.6" y2="54.7" stroke="#666" stroke-width="0.8"/>
<line x1="499.1" y1="41.5" x2="497.6" y2="54.5" stroke="#666" stroke-width="0.8"/>
<line x1="501.6" y1="42.2" x2="500.1" y2="54.8" stroke="#666" stroke-width="0.8"/>
<line x1="504.5" y1="42.4" x2="503.0" y2="52.3" stroke="#666" stroke-width="0.8"/>
<line x1="506.7" y1="40.4" x2="505.2" y2="54.5" stroke="#666" stroke-width="0.8"/>
<path d="M479.5,59.5 L513,50 L514,54.5 L479.5,66 Z" fill="url(#ib)"/>
<path d="M478.3,57.6 C480,55.4 482.5,54.8 485,55" stroke="#333" stroke-width="1.3" fill="none"/>
<line x1="509.8" y1="39.8" x2="514.8" y2="39.8" stroke="#2e2e2e" stroke-width="1.3"/>
<line x1="509.8" y1="47.5" x2="514.8" y2="47.5" stroke="#2e2e2e" stroke-width="1.3"/>
<line x1="509.8" y1="43.8" x2="513.5" y2="43.8" stroke="#555" stroke-width="0.9"/>
</g>
<g filter="url(#bl2)">
<ellipse cx="484.1" cy="43.2" rx="2.3" ry="1.6" fill="#ff1470"/>
<ellipse cx="490.4" cy="50.4" rx="2.2" ry="1.9" fill="#ff1470"/>
<ellipse cx="499.1" cy="52.8" rx="1.7" ry="1.6" fill="#ff1470"/>
<ellipse cx="506.0" cy="47.8" rx="2.1" ry="1.9" fill="#ff1470"/>
</g>
<rect x="102.4" y="11.3" width="141.7" height="98.5" fill="none" stroke="#8a8a8a" stroke-width="1"/>
<text x="105.95" y="21.6" class="pl">A</text>
<rect x="249.3" y="12.2" width="141.1" height="98.3" fill="none" stroke="#8a8a8a" stroke-width="1"/>
<text x="252.3" y="21.3" class="pl">B</text>
<rect x="394.1" y="12.3" width="142.3" height="98.3" fill="none" stroke="#8a8a8a" stroke-width="1"/>
<text x="396.75" y="21.25" class="pl">C</text>
<rect x="102.4" y="118.2" width="141.7" height="98.1" fill="none" stroke="#8a8a8a" stroke-width="1"/>
<text x="104.8" y="128.3" class="pl">D</text>
<rect x="248.9" y="118.9" width="141.6" height="97.8" fill="none" stroke="#8a8a8a" stroke-width="1"/>
<text x="251.2" y="130.4" class="pl">E</text>
<rect x="394.5" y="118.4" width="142.0" height="98.1" fill="none" stroke="#8a8a8a" stroke-width="1"/>
<text x="398.2" y="130.1" class="pl">F</text>
<text x="99.2" y="109.55" class="yt">0</text>
<text x="99.2" y="97.42" class="yt">0.5</text>
<text x="99.2" y="85.30" class="yt">1</text>
<text x="99.2" y="73.17" class="yt">1.5</text>
<text x="99.2" y="61.05" class="yt">2</text>
<text x="99.2" y="48.92" class="yt">2.5</text>
<text x="99.2" y="36.80" class="yt">3</text>
<text x="99.2" y="24.68" class="yt">3.5</text>
<text x="99.2" y="12.55" class="yt">4</text>
<text x="99.2" y="215.80" class="yt">0</text>
<text x="99.2" y="203.68" class="yt">0.5</text>
<text x="99.2" y="191.55" class="yt">1</text>
<text x="99.2" y="179.43" class="yt">1.5</text>
<text x="99.2" y="167.30" class="yt">2</text>
<text x="99.2" y="155.18" class="yt">2.5</text>
<text x="99.2" y="143.05" class="yt">3</text>
<text x="99.2" y="130.93" class="yt">3.5</text>
<text x="99.2" y="118.80" class="yt">4</text>
<text transform="translate(84.8,58.6) rotate(-90)" class="yl" textLength="35" lengthAdjust="spacing">(F - F0)/F0</text>
<text transform="translate(85.8,154.4) rotate(-90)" class="yl" textLength="37" lengthAdjust="spacing">(F - F0)/F0</text>
<text x="113.10" y="222.4" class="xt">0</text>
<text x="133.15" y="222.4" class="xt">100</text>
<text x="153.20" y="222.4" class="xt">200</text>
<text x="173.25" y="222.4" class="xt">300</text>
<text x="193.30" y="222.4" class="xt">400</text>
<text x="213.35" y="222.4" class="xt">500</text>
<text x="233.40" y="222.4" class="xt">600</text>
<text x="259.50" y="222.4" class="xt">0</text>
<text x="279.50" y="222.4" class="xt">100</text>
<text x="299.50" y="222.4" class="xt">200</text>
<text x="319.50" y="222.4" class="xt">300</text>
<text x="339.50" y="222.4" class="xt">400</text>
<text x="359.50" y="222.4" class="xt">500</text>
<text x="379.50" y="222.4" class="xt">600</text>
<text x="405.00" y="222.4" class="xt">0</text>
<text x="425.25" y="222.4" class="xt">100</text>
<text x="445.50" y="222.4" class="xt">200</text>
<text x="465.75" y="222.4" class="xt">300</text>
<text x="486.00" y="222.4" class="xt">400</text>
<text x="506.25" y="222.4" class="xt">500</text>
<text x="526.50" y="222.4" class="xt">600</text>
<text x="163.1" y="230.3" class="xl" textLength="28.4" lengthAdjust="spacingAndGlyphs">Time (s)</text>
<text x="306.7" y="230.4" class="xl" textLength="28.2" lengthAdjust="spacingAndGlyphs">Time (s)</text>
<text x="452.3" y="231.2" class="xl" textLength="27.8" lengthAdjust="spacingAndGlyphs">Time (s)</text>
<text x="190.70" y="19.8" class="it" textLength="47.85" lengthAdjust="spacingAndGlyphs">UBQ10:GCaMP3</text>
<text x="212.80" y="89.6" class="nt" textLength="29.45" lengthAdjust="spacingAndGlyphs">MS control</text>
<text x="217.90" y="105.3" class="nt" textLength="12.45" lengthAdjust="spacingAndGlyphs">Glut</text>
<text x="316.00" y="18.7" class="it" textLength="42.25" lengthAdjust="spacingAndGlyphs">PIN2:GCaMP3</text>
<text x="316.00" y="26.1" class="nt" textLength="29.95" lengthAdjust="spacingAndGlyphs">(Epidermis</text>
<rect x="347.4" y="22.3" width="7.6" height="3.5" fill="#14e614"/>
<text x="357.20" y="26.1" class="nt" textLength="31.65" lengthAdjust="spacingAndGlyphs">and cortex)</text>
<text x="302.20" y="107.0" class="nt" textLength="29.05" lengthAdjust="spacingAndGlyphs">MS control</text>
<text x="369.10" y="98.0" class="nt" textLength="11.65" lengthAdjust="spacingAndGlyphs">Glut</text>
<text x="486.20" y="19.9" class="it" textLength="43.45" lengthAdjust="spacingAndGlyphs">PRP3:GCaMP3</text>
<text x="486.00" y="26.5" class="nt" textLength="37.25" lengthAdjust="spacingAndGlyphs">(Trichoblasts)</text>
<rect x="524.6" y="24.1" width="7.6" height="3.5" fill="#ff1a8c"/>
<text x="499.95" y="81.5" class="nt" textLength="30.20" lengthAdjust="spacingAndGlyphs">MS control</text>
<text x="518.20" y="107.8" class="nt" textLength="11.95" lengthAdjust="spacingAndGlyphs">Glut</text>
<text x="192.45" y="128.6" class="it" textLength="39.90" lengthAdjust="spacingAndGlyphs">PEP:GCaMP3</text>
<text x="192.45" y="135.5" class="nt" textLength="23.00" lengthAdjust="spacingAndGlyphs">(Cortex)</text>
<rect x="217.2" y="132.3" width="7.5" height="3.5" fill="#1010f5"/>
<text x="203.70" y="200.1" class="nt" textLength="29.55" lengthAdjust="spacingAndGlyphs">MS control</text>
<text x="229.20" y="211.3" class="nt" textLength="11.95" lengthAdjust="spacingAndGlyphs">Glut</text>
<text x="327.20" y="126.1" class="it" textLength="40.15" lengthAdjust="spacingAndGlyphs">SCR:GCaMP3</text>
<text x="326.80" y="133.2" class="nt" textLength="37.55" lengthAdjust="spacingAndGlyphs">(Endodermis)</text>
<rect x="365.6" y="129.4" width="7.2" height="3.5" fill="#ffa21a"/>
<text x="358.20" y="208.3" class="nt" textLength="30.45" lengthAdjust="spacingAndGlyphs">MS control</text>
<text x="300.30" y="199.0" class="nt" textLength="12.05" lengthAdjust="spacingAndGlyphs">Glut</text>
<text x="485.90" y="127.0" class="it" textLength="47.25" lengthAdjust="spacingAndGlyphs">ATHB8:GCaMP3</text>
<text x="485.90" y="134.3" class="nt" textLength="32.75" lengthAdjust="spacingAndGlyphs">(Columella)</text>
<rect x="519.7" y="130.2" width="7.6" height="3.5" fill="#9a0cf8"/>
<text x="498.70" y="208.0" class="nt" textLength="30.35" lengthAdjust="spacingAndGlyphs">MS control</text>
<text x="445.95" y="200.6" class="nt" textLength="12.00" lengthAdjust="spacingAndGlyphs">Glut</text>
<polyline points="112.0,106.8 118.0,106.9 125.6,106.9 127.0,103.0 128.5,96.5 129.5,95.5 130.0,73.5 130.5,96.0 132.0,95.5 132.5,74.5 133.0,94.0 133.8,57.5 135.8,62.0 137.6,65.8 139.5,69.5 141.0,72.6 143.2,73.9 145.8,73.2 148.2,75.1 150.8,77.0 154.0,81.0 158.0,84.0 160.0,84.8 164.0,88.0 168.7,90.3 174.6,91.8 181.9,94.0 189.2,95.7 200.0,97.0 203.7,97.6 214.6,98.0 220.0,98.5 226.2,99.1 231.8,100.1" fill="none" stroke="#b0b0b0" stroke-width="1.35" stroke-linejoin="round" stroke-linecap="round" opacity="1"/>
<polyline points="112.0,96.7 113.0,96.7 114.0,96.3 115.0,96.4 116.0,96.5 117.0,96.2 118.0,96.5 119.0,96.4 120.0,96.2 121.0,96.4 122.0,95.8 123.0,95.9 124.0,95.9 125.2,95.5 126.3,95.5 127.5,95.6 128.8,95.3 130.0,95.0 131.2,94.4 132.5,94.4 133.5,93.6 134.5,93.3 136.2,91.9 137.5,90.0 138.8,87.5 139.5,83.0 140.5,73.5 141.8,67.0 143.0,61.4 144.5,57.6 146.4,56.4 148.2,57.6 150.1,61.4 152.0,64.5 153.5,69.0 155.2,75.0 156.3,77.4 157.5,79.5 158.9,81.4 160.4,83.3 161.7,84.7 163.0,86.5 164.4,87.7 165.8,88.8 166.9,89.6 168.0,90.0 169.1,89.8 170.2,90.3 171.6,90.2 173.1,89.6 174.6,90.1 176.0,90.3 177.1,90.4 178.2,90.6 179.3,91.4 180.4,91.3 181.1,86.4 182.2,86.4 183.3,86.7 184.5,86.8 185.7,87.1 186.8,88.0 188.0,88.1 189.2,88.4 190.5,88.8 191.7,89.0 193.0,89.0 194.2,89.3 195.4,89.8 196.7,89.6 197.9,89.9 198.9,90.1 200.0,90.3 201.2,90.9 202.5,91.2 203.7,91.5 204.8,91.9 205.8,91.8 207.3,93.2 208.4,92.8 209.5,92.2 210.7,92.8 211.8,92.7 213.0,93.5 214.1,93.6 215.2,94.0 216.4,94.1 217.5,94.7 218.6,94.6 219.8,94.7 220.9,94.9 222.0,95.2 223.1,95.4 224.1,95.4 225.1,95.5 226.2,95.7 227.3,95.7 228.4,95.9 229.6,96.5 230.7,96.5 231.8,96.6" fill="none" stroke="#111" stroke-width="1.35" stroke-linejoin="round" stroke-linecap="round" opacity="1"/>
<line x1="124.8" y1="78.2" x2="124.8" y2="92.6" stroke="#222" stroke-width="0.8"/>
<polygon points="124.8,92.6 123.35,87.60 126.25,87.60" fill="#222"/>
<polyline points="258.8,105.3 265.0,105.4 272.5,104.6 274.3,103.5 274.6,95.0 274.9,85.0 276.1,70.0 277.8,62.8 280.5,68.8 283.6,75.0 286.8,81.2 288.0,85.0 289.2,88.0 291.2,90.5 292.5,92.5 295.8,95.0 301.7,95.0 308.3,94.2 314.2,94.2 318.3,93.3 321.7,91.7 323.3,95.0 331.7,95.0 332.9,92.9 334.4,95.4 339.5,96.6 341.7,100.5 344.6,102.0 346.8,100.0 348.2,102.4 353.3,101.5 359.2,101.0 373.7,101.0 378.8,100.5" fill="none" stroke="#30e830" stroke-width="1.05" stroke-linejoin="round" stroke-linecap="round" opacity="1"/>
<polyline points="258.8,103.8 265.0,103.6 272.5,103.5 275.0,102.5 278.8,105.0 283.8,105.5 285.5,104.5 287.5,101.5 288.5,97.0 290.5,92.0 293.0,87.5 295.5,85.0 298.0,84.3 300.0,85.3 303.3,88.3 307.5,91.7 314.2,94.2 317.5,97.5 321.7,100.0 326.7,101.7 335.0,101.8 344.6,102.7 359.2,104.4 367.9,105.3 378.8,105.6" fill="none" stroke="#111" stroke-width="1.3" stroke-linejoin="round" stroke-linecap="round" opacity="1"/>
<line x1="271.9" y1="83" x2="271.9" y2="95.5" stroke="#222" stroke-width="0.8"/>
<polygon points="271.9,95.5 270.45,90.50 273.35,90.50" fill="#222"/>
<polyline points="404.6,95.9 407.5,94.2 410.8,94.8 413.8,94.7 416.7,93.8 418.8,93.4 419.5,89.0 419.7,81.0 420.5,74.0 421.8,64.0 423.2,54.0 424.5,49.6 426.4,49.0 428.0,48.6 429.5,47.8 431.4,47.1 432.6,48.4 434.5,51.5 436.0,54.5 438.3,61.2 440.8,66.5 443.3,70.8 445.0,72.5 447.5,70.8 450.0,74.2 453.3,78.0 456.7,81.5 460.0,84.0 462.5,85.3 466.2,88.5 470.0,92.2 473.8,98.4 477.5,99.7 483.1,101.0 488.8,102.1 495.3,103.5 496.3,92.5 499.7,96.9 506.2,97.8 511.9,99.7 517.5,99.1 520.3,100.6 524.1,100.6" fill="none" stroke="#ff3088" stroke-width="1.15" stroke-linejoin="round" stroke-linecap="round" opacity="1"/>
<polyline points="404.2,100.5 405.3,100.0 406.4,99.1 407.5,98.8 408.8,99.9 410.0,100.5 411.2,100.6 412.5,101.3 413.9,101.6 415.4,102.2 417.1,103.4 417.9,104.2 419.6,101.8 421.2,99.7 422.6,98.9 424.0,97.2 425.2,96.7 426.3,96.0 427.5,95.3 428.8,94.9 430.0,94.2 430.8,88.0 432.1,87.6 433.3,86.5 434.4,86.2 435.4,85.3 436.4,84.6 437.5,84.5 438.5,83.8 439.5,83.3 440.5,83.0 442.0,77.0 442.5,74.5 443.8,75.3 445.0,76.7 446.2,76.2 447.5,75.0 448.8,75.6 450.0,75.5 451.2,77.2 452.5,79.2 453.6,78.8 454.7,78.0 455.8,77.5 457.3,77.4 458.8,76.6 460.0,77.4 461.2,78.1 462.5,79.1 463.8,79.3 465.0,80.0 466.2,80.4 467.5,80.4 468.8,80.9 470.0,81.0 471.2,81.7 472.5,81.5 473.8,81.9 474.9,81.1 476.0,81.2 477.1,80.2 478.3,79.3 479.4,79.1 480.8,80.5 482.2,82.8 483.3,82.4 484.4,82.9 485.5,83.1 486.6,82.7 487.7,82.4 488.8,82.8 490.0,83.3 491.2,84.5 492.5,84.7 493.9,83.8 495.3,82.8 496.4,83.8 497.6,84.3 498.8,84.5 499.8,84.3 500.9,85.1 502.0,85.3 503.0,85.4 504.1,85.4 505.2,85.9 506.2,86.0 507.3,85.8 508.4,86.3 509.5,86.4 510.5,87.0 511.6,87.1 512.7,86.7 513.8,87.1 514.9,87.3 516.0,87.1 517.1,88.0 518.3,88.1 519.4,87.9 520.6,88.0 521.8,88.6 522.9,88.8 524.1,89.0" fill="none" stroke="#111" stroke-width="1.3" stroke-linejoin="round" stroke-linecap="round" opacity="1"/>
<line x1="416.9" y1="77.6" x2="417.0" y2="90.4" stroke="#222" stroke-width="0.8"/>
<polygon points="417.0,90.4 415.51,85.41 418.41,85.39" fill="#222"/>
<polyline points="112.5,214.1 120.0,213.2 125.6,212.2 128.5,210.3 130.9,206.6 131.5,203.0 132.2,200.0 133.1,197.2 134.1,196.3 136.0,197.2 137.8,201.0 140.6,203.8 143.5,205.1 145.0,205.3 148.3,203.3 151.7,200.8 155.0,199.2 158.3,201.3 162.5,205.0 166.7,208.3 171.7,210.3 178.3,210.8 185.0,210.4 190.8,208.1 196.7,208.1 205.4,209.2 214.2,211.3 222.9,211.8 231.6,212.1" fill="none" stroke="#3030ea" stroke-width="1.15" stroke-linejoin="round" stroke-linecap="round" opacity="1"/>
<polyline points="112.5,209.5 113.6,209.2 114.7,209.6 115.8,209.4 116.9,209.5 118.0,209.3 119.2,209.3 120.3,208.8 121.5,209.0 122.6,208.7 123.8,209.0 125.3,208.5 125.6,192.5 126.3,186.0 127.1,177.5 127.6,175.0 128.2,177.0 129.0,188.8 129.6,194.0 130.4,200.0 131.2,204.7 132.6,205.6 133.5,203.8 134.6,201.0 136.0,201.9 137.8,203.8 139.0,203.5 140.3,204.6 141.7,205.0 142.8,205.5 143.9,205.8 145.0,205.8 146.1,205.6 147.2,205.3 148.3,205.5 149.4,205.6 150.5,205.5 151.7,204.8 152.8,205.0 153.9,204.5 155.0,204.7 156.0,204.7 157.0,204.5 158.0,203.8 159.0,203.9 160.0,203.7 161.7,200.0 162.5,201.7 163.8,202.7 165.0,203.7 166.0,203.8 167.0,204.5 168.0,204.4 169.0,204.5 170.0,205.0 171.1,205.1 172.2,205.3 173.3,204.9 174.5,205.1 175.6,205.6 176.7,205.3 177.8,205.4 178.9,205.2 180.0,205.2 181.1,204.8 182.2,204.9 183.3,205.0 184.4,204.7 185.4,204.7 186.5,204.2 187.6,204.0 188.7,203.7 189.7,203.9 190.8,203.6 192.0,203.7 193.2,204.4 194.3,204.6 195.5,204.3 196.7,204.8 197.7,204.4 198.8,204.5 199.8,204.0 200.9,203.7 201.9,204.1 203.0,203.6 204.0,203.4 205.1,203.4 206.1,203.0 207.1,203.5 208.1,203.3 209.1,203.5 210.1,204.0 211.2,204.3 212.2,204.6 213.2,205.0 214.2,205.1 215.3,205.0 216.4,205.0 217.5,204.1 218.6,204.1 219.6,203.9 220.7,204.0 221.8,203.3 222.9,203.3 224.1,203.2 225.2,203.5 226.4,203.7 227.5,203.7 228.7,204.0 229.9,204.1 231.2,204.8 232.4,204.8" fill="none" stroke="#151515" stroke-width="1.3" stroke-linejoin="round" stroke-linecap="round" opacity="1"/>
<line x1="416.7" y1="97.2" x2="416.7" y2="103.8" stroke="#999" stroke-width="0.8"/>
<line x1="136" y1="195" x2="136" y2="212" stroke="#777" stroke-width="0.7"/>
<line x1="126.6" y1="190" x2="126.6" y2="206" stroke="#888" stroke-width="0.6"/>
<line x1="120" y1="187.8" x2="122.3" y2="204.7" stroke="#222" stroke-width="0.8"/>
<polygon points="122.3,204.7 120.19,199.94 123.06,199.55" fill="#222"/>
<polyline points="258.1,214.1 267.5,213.5 273.8,213.1 277.5,212.5 279.4,210.0 280.6,205.0 281.9,200.0 283.1,194.4 285.0,191.2 287.2,190.6 289.4,192.5 290.0,193.8 291.9,196.2 292.5,197.5 294.4,199.4 295.0,200.6 298.8,202.5 303.8,203.1 310.0,204.4 315.0,206.0 321.2,207.5 327.5,208.5 337.2,210.1 349.4,210.5 361.6,211.3 378.7,212.0" fill="none" stroke="#fba043" stroke-width="1.15" stroke-linejoin="round" stroke-linecap="round" opacity="1"/>
<polyline points="258.1,214.6 272.5,213.8 278.1,211.9 281.2,211.5 286.2,212.5 290.0,211.2 292.5,210.0 295.0,208.8 297.5,208.1 300.0,207.9 303.1,207.2 306.2,207.9 308.8,209.4 312.5,210.6 317.5,211.0 322.5,210.6 327.5,211.2 337.2,210.5 349.4,209.9 361.6,211.7 378.7,212.3" fill="none" stroke="#222" stroke-width="1.2" stroke-linejoin="round" stroke-linecap="round" opacity="1"/>
<line x1="268.5" y1="199.4" x2="271" y2="210" stroke="#222" stroke-width="0.8"/>
<polygon points="271,210 268.44,205.47 271.26,204.80" fill="#222"/>
<polyline points="404.6,212.8 416.8,210.9 424.3,211.6 431.8,211.3 435.0,211.2 441.2,210.6 446.2,209.1 450.0,209.4 457.5,209.8 465.0,209.0 472.5,208.8 480.0,209.0 492.2,210.4 509.4,210.8 524.8,210.6" fill="none" stroke="#222" stroke-width="1.2" stroke-linejoin="round" stroke-linecap="round" opacity="1"/>
<polyline points="404.6,212.8 414.9,211.6 419.6,210.9 421.5,207.5 423.3,201.9 425.2,195.3 426.5,190.6 427.6,189.3 429.0,191.6 430.8,196.3 432.7,199.6 435.5,200.4 440.0,200.6 442.5,201.9 450.0,204.4 457.5,206.2 465.0,207.8 472.5,208.5 480.0,208.8 492.2,210.4 509.4,210.8 524.8,210.6" fill="none" stroke="#ad3cf0" stroke-width="1.15" stroke-linejoin="round" stroke-linecap="round" opacity="1"/>
<line x1="415.4" y1="194.4" x2="416.8" y2="208.5" stroke="#222" stroke-width="0.8"/>
<polygon points="416.8,208.5 414.86,203.67 417.75,203.38" fill="#222"/>
</svg>
</body></html>
